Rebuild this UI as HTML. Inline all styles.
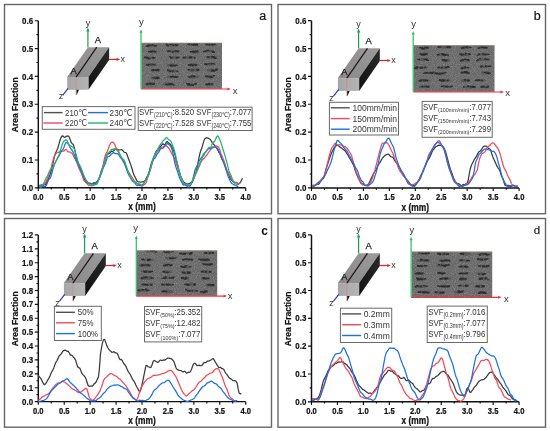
<!DOCTYPE html><html><head><meta charset="utf-8"><style>html,body{margin:0;padding:0;background:#fff;}svg{display:block;}</style></head><body>
<svg width="550" height="431" viewBox="0 0 550 431">
<defs>
<linearGradient id="gTop" x1="0" y1="1" x2="1" y2="0"><stop offset="0" stop-color="#8a8a8a"/><stop offset="1" stop-color="#9a9a9a"/></linearGradient>
<linearGradient id="gSide" x1="0" y1="1" x2="1" y2="0"><stop offset="0" stop-color="#111"/><stop offset="1" stop-color="#2a2a2a"/></linearGradient>
<linearGradient id="gFront" x1="0" y1="0" x2="1" y2="0"><stop offset="0" stop-color="#a6a6a6"/><stop offset="1" stop-color="#b4b4b4"/></linearGradient>
<filter id="noise" x="0" y="0" width="100%" height="100%"><feTurbulence type="fractalNoise" baseFrequency="1.1" numOctaves="1" seed="3" result="t"/><feColorMatrix type="matrix" values="0 0 0 0 0.5  0 0 0 0 0.5  0 0 0 0 0.5  0 0 0 -2.2 1.35"/></filter>
<filter id="soft" x="-10%" y="-50%" width="120%" height="200%"><feGaussianBlur stdDeviation="0.45"/></filter>
</defs>
<rect width="550" height="431" fill="#fff"/>
<rect x="4.5" y="4.5" width="267" height="209.2" fill="none" stroke="#666" stroke-width="1.4"/>
<rect x="278" y="4.5" width="267.5" height="209.2" fill="none" stroke="#666" stroke-width="1.4"/>
<rect x="4.5" y="218.5" width="267" height="208.7" fill="none" stroke="#666" stroke-width="1.4"/>
<rect x="278" y="218.5" width="267.5" height="208.7" fill="none" stroke="#666" stroke-width="1.4"/>
<path d="M38.3 20.7 V187.8 H245.7" fill="none" stroke="#111" stroke-width="1.45"/>
<path d="M38.3 187.8 h-3.5 M38.3 173.88 h-1.8 M38.3 159.95 h-3.5 M38.3 146.03 h-1.8 M38.3 132.1 h-3.5 M38.3 118.18 h-1.8 M38.3 104.25 h-3.5 M38.3 90.33 h-1.8 M38.3 76.4 h-3.5 M38.3 62.48 h-1.8 M38.3 48.55 h-3.5 M38.3 34.63 h-1.8 M38.3 20.7 h-3.5 M38.3 187.8 v3.2 M51.26 187.8 v1.8 M64.22 187.8 v3.2 M77.19 187.8 v1.8 M90.15 187.8 v3.2 M103.11 187.8 v1.8 M116.08 187.8 v3.2 M129.04 187.8 v1.8 M142 187.8 v3.2 M154.96 187.8 v1.8 M167.93 187.8 v3.2 M180.89 187.8 v1.8 M193.85 187.8 v3.2 M206.81 187.8 v1.8 M219.77 187.8 v3.2 M232.74 187.8 v1.8 M245.7 187.8 v3.2" stroke="#111" stroke-width="1.15"/>
<text transform="translate(33.1 190.9) scale(1 1.03)" font-family='"Liberation Sans", "DejaVu Sans", "Noto Sans CJK SC", sans-serif' font-size="8.4" fill="#111" text-anchor="end" font-weight="bold" textLength="11" lengthAdjust="spacingAndGlyphs" stroke="#111" stroke-width="0.2">0.0</text>
<text transform="translate(33.1 163.05) scale(1 1.03)" font-family='"Liberation Sans", "DejaVu Sans", "Noto Sans CJK SC", sans-serif' font-size="8.4" fill="#111" text-anchor="end" font-weight="bold" textLength="11" lengthAdjust="spacingAndGlyphs" stroke="#111" stroke-width="0.2">0.1</text>
<text transform="translate(33.1 135.2) scale(1 1.03)" font-family='"Liberation Sans", "DejaVu Sans", "Noto Sans CJK SC", sans-serif' font-size="8.4" fill="#111" text-anchor="end" font-weight="bold" textLength="11" lengthAdjust="spacingAndGlyphs" stroke="#111" stroke-width="0.2">0.2</text>
<text transform="translate(33.1 107.35) scale(1 1.03)" font-family='"Liberation Sans", "DejaVu Sans", "Noto Sans CJK SC", sans-serif' font-size="8.4" fill="#111" text-anchor="end" font-weight="bold" textLength="11" lengthAdjust="spacingAndGlyphs" stroke="#111" stroke-width="0.2">0.3</text>
<text transform="translate(33.1 79.5) scale(1 1.03)" font-family='"Liberation Sans", "DejaVu Sans", "Noto Sans CJK SC", sans-serif' font-size="8.4" fill="#111" text-anchor="end" font-weight="bold" textLength="11" lengthAdjust="spacingAndGlyphs" stroke="#111" stroke-width="0.2">0.4</text>
<text transform="translate(33.1 51.65) scale(1 1.03)" font-family='"Liberation Sans", "DejaVu Sans", "Noto Sans CJK SC", sans-serif' font-size="8.4" fill="#111" text-anchor="end" font-weight="bold" textLength="11" lengthAdjust="spacingAndGlyphs" stroke="#111" stroke-width="0.2">0.5</text>
<text transform="translate(33.1 23.8) scale(1 1.03)" font-family='"Liberation Sans", "DejaVu Sans", "Noto Sans CJK SC", sans-serif' font-size="8.4" fill="#111" text-anchor="end" font-weight="bold" textLength="11" lengthAdjust="spacingAndGlyphs" stroke="#111" stroke-width="0.2">0.6</text>
<text transform="translate(38.3 199.9) scale(1 1.2)" font-family='"Liberation Sans", "DejaVu Sans", "Noto Sans CJK SC", sans-serif' font-size="8" fill="#111" text-anchor="middle" font-weight="bold" textLength="10.6" lengthAdjust="spacingAndGlyphs" stroke="#111" stroke-width="0.2">0.0</text>
<text transform="translate(64.22 199.9) scale(1 1.2)" font-family='"Liberation Sans", "DejaVu Sans", "Noto Sans CJK SC", sans-serif' font-size="8" fill="#111" text-anchor="middle" font-weight="bold" textLength="10.6" lengthAdjust="spacingAndGlyphs" stroke="#111" stroke-width="0.2">0.5</text>
<text transform="translate(90.15 199.9) scale(1 1.2)" font-family='"Liberation Sans", "DejaVu Sans", "Noto Sans CJK SC", sans-serif' font-size="8" fill="#111" text-anchor="middle" font-weight="bold" textLength="10.6" lengthAdjust="spacingAndGlyphs" stroke="#111" stroke-width="0.2">1.0</text>
<text transform="translate(116.08 199.9) scale(1 1.2)" font-family='"Liberation Sans", "DejaVu Sans", "Noto Sans CJK SC", sans-serif' font-size="8" fill="#111" text-anchor="middle" font-weight="bold" textLength="10.6" lengthAdjust="spacingAndGlyphs" stroke="#111" stroke-width="0.2">1.5</text>
<text transform="translate(142 199.9) scale(1 1.2)" font-family='"Liberation Sans", "DejaVu Sans", "Noto Sans CJK SC", sans-serif' font-size="8" fill="#111" text-anchor="middle" font-weight="bold" textLength="10.6" lengthAdjust="spacingAndGlyphs" stroke="#111" stroke-width="0.2">2.0</text>
<text transform="translate(167.93 199.9) scale(1 1.2)" font-family='"Liberation Sans", "DejaVu Sans", "Noto Sans CJK SC", sans-serif' font-size="8" fill="#111" text-anchor="middle" font-weight="bold" textLength="10.6" lengthAdjust="spacingAndGlyphs" stroke="#111" stroke-width="0.2">2.5</text>
<text transform="translate(193.85 199.9) scale(1 1.2)" font-family='"Liberation Sans", "DejaVu Sans", "Noto Sans CJK SC", sans-serif' font-size="8" fill="#111" text-anchor="middle" font-weight="bold" textLength="10.6" lengthAdjust="spacingAndGlyphs" stroke="#111" stroke-width="0.2">3.0</text>
<text transform="translate(219.77 199.9) scale(1 1.2)" font-family='"Liberation Sans", "DejaVu Sans", "Noto Sans CJK SC", sans-serif' font-size="8" fill="#111" text-anchor="middle" font-weight="bold" textLength="10.6" lengthAdjust="spacingAndGlyphs" stroke="#111" stroke-width="0.2">3.5</text>
<text transform="translate(245.7 199.9) scale(1 1.2)" font-family='"Liberation Sans", "DejaVu Sans", "Noto Sans CJK SC", sans-serif' font-size="8" fill="#111" text-anchor="middle" font-weight="bold" textLength="10.6" lengthAdjust="spacingAndGlyphs" stroke="#111" stroke-width="0.2">4.0</text>
<text transform="translate(142 210.4) scale(1 1.2)" font-family='"Liberation Sans", "DejaVu Sans", "Noto Sans CJK SC", sans-serif' font-size="8.4" fill="#111" text-anchor="middle" font-weight="bold" textLength="27.5" lengthAdjust="spacingAndGlyphs" stroke="#111" stroke-width="0.2">x (mm)</text>
<text transform="translate(18 104.75) rotate(-90)" x="-27.4" font-family='"Liberation Sans", "DejaVu Sans", "Noto Sans CJK SC", sans-serif' font-weight="bold" font-size="8.7" fill="#111" stroke="#111" stroke-width="0.2" textLength="54.8" lengthAdjust="spacingAndGlyphs">Area Fraction</text>
<polygon points="67.2,77 88.4,77 109.1,47.2 87.9,47.2" fill="url(#gTop)"/>
<polygon points="88.4,77 109.1,47.2 109.1,60 88.4,89.8" fill="url(#gSide)"/>
<rect x="67.2" y="77" width="21.2" height="12.8" fill="url(#gFront)"/>
<line x1="76" y1="77" x2="96.7" y2="47.2" stroke="#111" stroke-width="1.35"/>
<line x1="75.1" y1="77" x2="95.8" y2="47.2" stroke="#c99" stroke-width="0.5" opacity="0.8"/>
<line x1="76" y1="77" x2="76" y2="95" stroke="#c88" stroke-width="0.6"/>
<polygon points="76.5,89.8 79,89.8 76.5,95.5" fill="#111"/>
<line x1="87.9" y1="47.2" x2="87.9" y2="31" stroke="#1aa04a" stroke-width="1.2"/>
<polygon points="86.3,31.5 89.5,31.5 87.9,27.5" fill="#1aa04a"/>
<line x1="109.1" y1="59.4" x2="117.1" y2="59.4" stroke="#e02020" stroke-width="1.2"/>
<polygon points="116.6,57.8 116.6,61 120.1,59.4" fill="#e02020"/>
<line x1="68" y1="88.3" x2="62.7" y2="95.3" stroke="#2030c0" stroke-width="1.1"/>
<text x="87.9" y="25.5" text-anchor="middle" font-family='"Liberation Sans", "DejaVu Sans", "Noto Sans CJK SC", sans-serif' font-size="9" fill="#333">y</text>
<text x="122.7" y="62" text-anchor="middle" font-family='"Liberation Sans", "DejaVu Sans", "Noto Sans CJK SC", sans-serif' font-size="9" fill="#333">x</text>
<text x="60.9" y="99.4" text-anchor="middle" font-family='"Liberation Sans", "DejaVu Sans", "Noto Sans CJK SC", sans-serif' font-size="9" fill="#333">z</text>
<text x="97.9" y="43" text-anchor="middle" font-family='"Liberation Sans", "DejaVu Sans", "Noto Sans CJK SC", sans-serif' font-size="9.4" fill="#222" stroke="#222" stroke-width="0.25">A</text>
<text x="73.6" y="74.2" text-anchor="middle" font-family='"Liberation Sans", "DejaVu Sans", "Noto Sans CJK SC", sans-serif' font-size="9.4" fill="#222" stroke="#222" stroke-width="0.25">A</text>
<clipPath id="mc11"><rect x="141.5" y="42.9" width="80.5" height="45.9"/></clipPath>
<rect x="141.5" y="42.9" width="80.5" height="45.9" fill="#676767"/>
<g clip-path="url(#mc11)">
<rect x="141.5" y="42.9" width="80.5" height="45.9" filter="url(#noise)" opacity="0.38"/>
<g fill="#3a3a3a" opacity="0.45" filter="url(#soft)"><ellipse cx="152.02" cy="45.64" rx="5.5" ry="1.22"/><ellipse cx="153.41" cy="51.51" rx="4.21" ry="1.74"/><ellipse cx="149.82" cy="57.87" rx="4.79" ry="1.25"/><ellipse cx="151.04" cy="64.8" rx="5.73" ry="1.67"/><ellipse cx="156.1" cy="70.06" rx="4.1" ry="1.27"/><ellipse cx="155.2" cy="77.9" rx="4.89" ry="1.64"/><ellipse cx="150.78" cy="83.89" rx="4.16" ry="1.53"/><ellipse cx="171.89" cy="45.05" rx="6.17" ry="1.66"/><ellipse cx="173.38" cy="51.34" rx="5.68" ry="1.42"/><ellipse cx="174.55" cy="57.74" rx="4.99" ry="1.44"/><ellipse cx="172.03" cy="65.22" rx="5.41" ry="1.73"/><ellipse cx="172.64" cy="71.03" rx="5.03" ry="1.61"/><ellipse cx="172.44" cy="76.87" rx="6.27" ry="1.37"/><ellipse cx="168.29" cy="84.18" rx="5.77" ry="1.76"/><ellipse cx="192.55" cy="44.36" rx="6.23" ry="1.48"/><ellipse cx="195.34" cy="51.74" rx="4.05" ry="1.76"/><ellipse cx="189.27" cy="57.54" rx="5.7" ry="1.68"/><ellipse cx="192.9" cy="64.95" rx="4.35" ry="1.74"/><ellipse cx="193.4" cy="70" rx="4.87" ry="1.76"/><ellipse cx="193.41" cy="76.82" rx="6.35" ry="1.58"/><ellipse cx="191.34" cy="84.43" rx="4.55" ry="1.3"/><ellipse cx="211.24" cy="44.42" rx="4.76" ry="1.42"/><ellipse cx="208.73" cy="51.08" rx="5.02" ry="1.27"/><ellipse cx="211.23" cy="57.18" rx="5.25" ry="1.65"/><ellipse cx="210.37" cy="64.21" rx="5.87" ry="1.54"/><ellipse cx="212.15" cy="70.13" rx="5.42" ry="1.55"/><ellipse cx="209.87" cy="76.7" rx="4.57" ry="1.47"/><ellipse cx="210.01" cy="84.29" rx="4.02" ry="1.72"/></g>
<path d="M145.83 45.21 h2.92 v1.5 h-2.92Z M149.33 44.65 h2.49 v1.22 h-2.49Z M146.78 45.22 h2.51 v1.41 h-2.51Z M154.02 45.3 h2.97 v1.16 h-2.97Z M151.6 44.26 h2.03 v1.47 h-2.03Z M147.71 44.54 h2.8 v1.1 h-2.8Z M149.54 50.83 h1.8 v1.72 h-1.8Z M150.13 51.01 h1.8 v1.28 h-1.8Z M151.87 50.71 h2.55 v1.27 h-2.55Z M147.85 50.93 h2.99 v1.37 h-2.99Z M154.24 50.94 h1.55 v1.68 h-1.55Z M152.23 56.85 h1.69 v1.59 h-1.69Z M145.7 56.74 h2.4 v1.72 h-2.4Z M144.39 56.59 h1.79 v1.07 h-1.79Z M143.9 56.79 h2.59 v1.39 h-2.59Z M152.22 57.46 h1.97 v1.21 h-1.97Z M153.4 57.05 h2.01 v1.35 h-2.01Z M147.26 57.08 h1.56 v1.05 h-1.56Z M147.52 58.02 h2.77 v1.59 h-2.77Z M146.17 64.21 h1.72 v1.35 h-1.72Z M153 64.32 h2.64 v1.03 h-2.64Z M147.93 63.74 h3 v1.12 h-3Z M147.31 64.27 h1.59 v1.7 h-1.59Z M151.48 63.77 h2.25 v1.06 h-2.25Z M153.65 69.49 h2.03 v1.1 h-2.03Z M153.15 69.28 h2.87 v1.09 h-2.87Z M151.24 69.57 h2.95 v1.73 h-2.95Z M156.39 69.67 h2.71 v1.55 h-2.71Z M152.4 69.03 h1.57 v1.64 h-1.57Z M156.57 69.2 h2.64 v1.21 h-2.64Z M157.62 68.71 h1.71 v1.31 h-1.71Z M154.88 69.39 h2.41 v1.48 h-2.41Z M156.96 77.31 h2.33 v1.54 h-2.33Z M153.9 77.62 h2.97 v1.08 h-2.97Z M152.72 77.22 h1.54 v1.12 h-1.54Z M156.9 77.35 h2.46 v1.72 h-2.46Z M156.47 77.18 h2.47 v1.27 h-2.47Z M156.78 77.09 h1.73 v1.7 h-1.73Z M155.9 76.75 h2.34 v1.63 h-2.34Z M151.89 83.79 h2.82 v1.09 h-2.82Z M153.09 82.68 h1.64 v1.5 h-1.64Z M149.02 83.33 h2.78 v1.11 h-2.78Z M150.61 83.18 h2.29 v1.4 h-2.29Z M146.34 83.44 h2.79 v1.14 h-2.79Z M145.63 83.49 h2.19 v1.78 h-2.19Z M145.84 83.17 h2.3 v1.1 h-2.3Z M148.82 82.81 h2.57 v1.43 h-2.57Z M169.25 44.06 h2.96 v1.06 h-2.96Z M166.55 45.1 h2.26 v1.06 h-2.26Z M165.34 43.53 h2.08 v1.59 h-2.08Z M172.46 44.53 h1.57 v1.36 h-1.57Z M175.49 44.42 h2.05 v1.71 h-2.05Z M175.87 44.23 h2.62 v1.29 h-2.62Z M166.8 44.52 h1.63 v1.53 h-1.63Z M174.62 44.37 h2.17 v1.09 h-2.17Z M174.62 50.3 h2.54 v1.4 h-2.54Z M171.93 51.26 h1.75 v1.39 h-1.75Z M168.4 50.52 h2.23 v1.27 h-2.23Z M168.56 50.99 h2.1 v1.1 h-2.1Z M166.88 50.32 h2.37 v1.42 h-2.37Z M176.48 50.59 h2.9 v1.64 h-2.9Z M176.76 56.87 h1.54 v1.37 h-1.54Z M175.7 57.03 h2.05 v1.53 h-2.05Z M169.99 57.02 h2.39 v1.42 h-2.39Z M176.86 56.64 h2.68 v1.01 h-2.68Z M168.91 56.04 h1.84 v1.05 h-1.84Z M171.83 64.87 h2.08 v1.25 h-2.08Z M169.64 64.47 h2.33 v1.5 h-2.33Z M173.71 65.02 h2.03 v1.53 h-2.03Z M169.98 64.94 h2.83 v1.6 h-2.83Z M175.38 64.69 h2.88 v1.1 h-2.88Z M171.97 70.3 h1.61 v1.54 h-1.61Z M166.84 69.33 h2.52 v1.32 h-2.52Z M169.61 70.92 h1.91 v1.02 h-1.91Z M168.74 70.43 h2.72 v1.1 h-2.72Z M176.43 70.73 h1.96 v1.47 h-1.96Z M169.88 70.43 h1.66 v1.31 h-1.66Z M176.22 76.27 h2.06 v1.57 h-2.06Z M175.23 76.08 h1.77 v1.14 h-1.77Z M174.26 76.34 h2.84 v1.62 h-2.84Z M170.04 75.97 h2.84 v1.56 h-2.84Z M172.36 75.86 h2.08 v1.27 h-2.08Z M165.55 83.78 h2.89 v1.32 h-2.89Z M170.67 83.18 h2.18 v1.41 h-2.18Z M170.99 83.41 h1.73 v1.49 h-1.73Z M168.41 83 h2.75 v1.44 h-2.75Z M172.48 84.14 h2.29 v1.26 h-2.29Z M168.8 83.62 h2.27 v1.26 h-2.27Z M188.5 43.02 h1.97 v1.69 h-1.97Z M192.86 44.33 h1.75 v1.75 h-1.75Z M194.67 43.13 h2.56 v1.58 h-2.56Z M190.99 43.98 h1.84 v1.02 h-1.84Z M193.32 43.32 h2.86 v1.21 h-2.86Z M195.09 43.95 h2.85 v1.77 h-2.85Z M187.39 43.55 h1.84 v1.29 h-1.84Z M195.05 50.66 h2.61 v1.64 h-2.61Z M193.57 51.18 h1.65 v1.23 h-1.65Z M192.1 50.79 h1.99 v1.46 h-1.99Z M192.61 51.66 h2.75 v1.01 h-2.75Z M189.94 51.07 h2.8 v1.51 h-2.8Z M196.27 50.5 h1.83 v1.74 h-1.83Z M182.6 56.78 h2.97 v1.72 h-2.97Z M188.78 57 h2.85 v1.27 h-2.85Z M193.88 57.06 h1.74 v1.42 h-1.74Z M189.08 56.69 h2.51 v1.03 h-2.51Z M189.6 56.41 h2.51 v1.78 h-2.51Z M194.96 64.36 h2.44 v1.68 h-2.44Z M193.26 64.17 h2.96 v1.07 h-2.96Z M187.97 64.35 h2.93 v1.55 h-2.93Z M190.15 63.75 h2.17 v1.38 h-2.17Z M191.67 64.55 h1.91 v1.7 h-1.91Z M196.18 69.69 h2.76 v1.04 h-2.76Z M196.3 68.63 h1.77 v1.59 h-1.77Z M196.86 69.22 h2.63 v1.73 h-2.63Z M197.29 68.74 h1.72 v1.68 h-1.72Z M191.26 69.47 h2.25 v1.03 h-2.25Z M187.52 68.98 h2.39 v1.6 h-2.39Z M193.72 75.39 h1.59 v1.61 h-1.59Z M188.53 76.37 h2.2 v1.01 h-2.2Z M193.39 76.1 h1.61 v1.21 h-1.61Z M189.67 76.38 h2.56 v1.13 h-2.56Z M191.23 75.35 h2.92 v1.09 h-2.92Z M187.59 82.93 h2.47 v1.29 h-2.47Z M187.38 84.13 h1.89 v1.14 h-1.89Z M189.88 84.7 h2.57 v1.16 h-2.57Z M186.04 82.97 h2.15 v1.29 h-2.15Z M192.06 84.45 h1.88 v1.55 h-1.88Z M190.54 84.23 h2.85 v1.09 h-2.85Z M187.4 83.87 h2.35 v1.78 h-2.35Z M194.37 82.97 h2.64 v1.56 h-2.64Z M205.27 43.58 h2.58 v1.6 h-2.58Z M208.34 44.05 h1.76 v1.48 h-1.76Z M213.02 43.64 h2.9 v1.21 h-2.9Z M212.01 44.07 h2.3 v1.09 h-2.3Z M210.61 44.22 h2.02 v1.28 h-2.02Z M212.06 51.2 h2.81 v1.7 h-2.81Z M204.63 50.45 h2.54 v1.24 h-2.54Z M212 51.05 h2.6 v1.57 h-2.6Z M204.86 50.77 h1.99 v1.09 h-1.99Z M202.99 51.09 h2.45 v1.22 h-2.45Z M210.78 50.7 h2.77 v1.03 h-2.77Z M205.26 50.53 h2.17 v1.28 h-2.17Z M206.49 49.64 h2.37 v1.48 h-2.37Z M211.46 56.1 h1.9 v1.73 h-1.9Z M213.1 56.68 h1.83 v1.35 h-1.83Z M213.9 57.5 h2.72 v1.43 h-2.72Z M207.47 56.33 h1.61 v1.54 h-1.61Z M212.64 56 h1.95 v1.62 h-1.95Z M206.73 56.22 h2.71 v1.46 h-2.71Z M208.26 63.13 h1.68 v1.04 h-1.68Z M205.28 63.82 h2.45 v1.46 h-2.45Z M210.62 63.11 h1.64 v1.31 h-1.64Z M204.63 63.63 h1.62 v1.05 h-1.62Z M204.41 63.67 h2.64 v1.23 h-2.64Z M212.25 62.98 h1.93 v1.38 h-1.93Z M204.2 63.23 h2.38 v1.66 h-2.38Z M215.11 69.31 h2.32 v1.43 h-2.32Z M215.11 68.6 h2.99 v1.19 h-2.99Z M212.78 70.17 h2.27 v1.5 h-2.27Z M211.47 69.47 h2.46 v1.07 h-2.46Z M211.02 70.31 h1.82 v1.45 h-1.82Z M213.02 69.91 h1.95 v1.05 h-1.95Z M212.76 74.96 h2.41 v1.18 h-2.41Z M209.76 76.85 h1.98 v1.38 h-1.98Z M209.4 76.15 h2.53 v1.21 h-2.53Z M205.14 75.65 h1.99 v1.49 h-1.99Z M208.27 75.89 h1.65 v1.48 h-1.65Z M205.04 75.67 h2.53 v1.5 h-2.53Z M205.31 75.62 h2.91 v1.07 h-2.91Z M210.3 76.55 h2.42 v1.31 h-2.42Z M207.86 83.33 h2.29 v1.78 h-2.29Z M205.3 83.72 h2.11 v1.63 h-2.11Z M211.1 83.22 h1.52 v1.52 h-1.52Z M208.04 82.96 h2.45 v1.36 h-2.45Z M207.32 83.69 h2.28 v1.2 h-2.28Z M208.05 83.8 h2.22 v1.2 h-2.22Z" fill="#222" opacity="0.8"/>
</g>
<line x1="141.5" y1="43.2" x2="222" y2="43.2" stroke="#9a8a70" stroke-width="0.7"/>
<line x1="141" y1="88.8" x2="141" y2="32.2" stroke="#22c060" stroke-width="1.2"/>
<polygon points="139.5,32.7 142.5,32.7 141,29.2" fill="#22c060"/>
<line x1="141" y1="89" x2="227.8" y2="89" stroke="#f03040" stroke-width="1.2"/>
<polygon points="227.3,87.5 227.3,90.5 230.8,89" fill="#f03040"/>
<text x="141.3" y="25.3" font-family='"Liberation Sans", "DejaVu Sans", "Noto Sans CJK SC", sans-serif' font-size="9.5" fill="#333" text-anchor="middle">y</text>
<text x="235.2" y="94.1" font-family='"Liberation Sans", "DejaVu Sans", "Noto Sans CJK SC", sans-serif' font-size="9.5" fill="#333" text-anchor="middle">x</text>
<rect x="42.3" y="106.6" width="92.7" height="22.7" fill="#fff" stroke="#6a6a6a" stroke-width="1"/>
<line x1="43.9" y1="112.6" x2="62.6" y2="112.6" stroke="#505050" stroke-width="1.4"/>
<text transform="translate(65 115.7) scale(1 1.08)" font-family='"Liberation Sans", "DejaVu Sans", "Noto Sans CJK SC", sans-serif' font-size="9" fill="#333" textLength="22" lengthAdjust="spacingAndGlyphs">210℃</text>
<line x1="88" y1="112.6" x2="108" y2="112.6" stroke="#1b70e4" stroke-width="1.4"/>
<text transform="translate(109.6 115.7) scale(1 1.08)" font-family='"Liberation Sans", "DejaVu Sans", "Noto Sans CJK SC", sans-serif' font-size="9" fill="#333" textLength="23" lengthAdjust="spacingAndGlyphs">230℃</text>
<line x1="43.4" y1="123" x2="62.6" y2="123" stroke="#f4485a" stroke-width="1.4"/>
<text transform="translate(65 126.1) scale(1 1.08)" font-family='"Liberation Sans", "DejaVu Sans", "Noto Sans CJK SC", sans-serif' font-size="9" fill="#333" textLength="22" lengthAdjust="spacingAndGlyphs">220℃</text>
<line x1="88" y1="123" x2="108" y2="123" stroke="#22b46a" stroke-width="1.4"/>
<text transform="translate(109.6 126.1) scale(1 1.08)" font-family='"Liberation Sans", "DejaVu Sans", "Noto Sans CJK SC", sans-serif' font-size="9" fill="#333" textLength="23" lengthAdjust="spacingAndGlyphs">240℃</text>
<rect x="138.2" y="107.2" width="113.9" height="23.3" fill="#fff" stroke="#6a6a6a" stroke-width="1"/>
<text transform="translate(139 115.05) scale(1 1.1)" font-family='"Liberation Sans", "DejaVu Sans", "Noto Sans CJK SC", sans-serif' fill="#333" textLength="112.4" lengthAdjust="spacingAndGlyphs"><tspan font-size="8.6" y="0">SVF</tspan><tspan font-size="5.9" y="2">(210℃)</tspan><tspan font-size="8.6" y="0">:8.520 SVF</tspan><tspan font-size="5.9" y="2">(230℃)</tspan><tspan font-size="8.6" y="0">:7.077</tspan></text>
<text transform="translate(139 126.1) scale(1 1.1)" font-family='"Liberation Sans", "DejaVu Sans", "Noto Sans CJK SC", sans-serif' fill="#333" textLength="112.4" lengthAdjust="spacingAndGlyphs"><tspan font-size="8.6" y="0">SVF</tspan><tspan font-size="5.9" y="2">(220℃)</tspan><tspan font-size="8.6" y="0">:7.528 SVF</tspan><tspan font-size="5.9" y="2">(240℃)</tspan><tspan font-size="8.6" y="0">:7.755</tspan></text>
<path d="M39.2 185.46 L40.23 185.24 L41.26 185.69 L42.3 185.95 L43.33 185.23 L44.36 184.96 L45.39 184.62 L46.42 182.93 L47.46 180.78 L48.49 178.59 L49.52 176.14 L50.55 173.13 L51.58 169.35 L52.62 164.84 L53.65 160.03 L54.68 155.74 L55.71 152.77 L56.74 150.62 L57.78 148.2 L58.81 144.7 L59.84 140.79 L60.87 137.88 L61.9 136.08 L62.94 135.89 L63.97 137.24 L65 137.34 L66.03 136.42 L67.06 136.06 L68.1 135.95 L69.13 136.9 L70.16 139.47 L71.19 142.54 L72.22 143.67 L73.26 144.38 L74.29 147.61 L75.32 152.28 L76.35 157.25 L77.38 161.1 L78.42 163.63 L79.45 166.53 L80.48 169.89 L81.51 172.43 L82.54 174.71 L83.58 177.43 L84.61 179.74 L85.64 181.55 L86.67 182.95 L87.7 183.4 L88.74 183.22 L89.77 183.15 L90.8 183.71 L91.83 184.01 L92.86 183.8 L93.9 183.63 L94.93 183.65 L95.96 183.69 L96.99 182.6 L98.02 180.89 L99.06 178.71 L100.09 175.28 L101.12 171.59 L102.15 168.8 L103.18 166.22 L104.22 162.75 L105.25 158.97 L106.28 156.18 L107.31 154.41 L108.34 153.65 L109.38 153.5 L110.41 152.32 L111.44 151.23 L112.47 151.34 L113.5 151 L114.54 149.82 L115.57 148.93 L116.6 148.69 L117.63 149.4 L118.66 150.03 L119.7 149.93 L120.73 149.75 L121.76 149.73 L122.79 150.59 L123.82 151.98 L124.86 152.42 L125.89 152.52 L126.92 154.21 L127.95 157.28 L128.98 160.11 L130.02 162.66 L131.05 165.59 L132.08 168.98 L133.11 172.49 L134.14 175.33 L135.18 177.27 L136.21 179.35 L137.24 181.48 L138.27 181.77 L139.3 181.78 L140.34 182.22 L141.37 182.11 L142.4 181.9 L143.43 181.69 L144.46 181.44 L145.5 179.92 L146.53 177.69 L147.56 176.09 L148.59 174.39 L149.62 170.74 L150.66 165.95 L151.69 162.52 L152.72 159.98 L153.75 157.22 L154.78 154.51 L155.82 152.11 L156.85 150.43 L157.88 149.38 L158.91 148.17 L159.94 147 L160.98 146.04 L162.01 144.54 L163.04 143.8 L164.07 144.74 L165.1 144.67 L166.14 142.48 L167.17 141.35 L168.2 142.55 L169.23 143.51 L170.26 144.1 L171.3 145.79 L172.33 147.65 L173.36 149.68 L174.39 152.84 L175.42 156.86 L176.46 160.88 L177.49 164.75 L178.52 168.77 L179.55 172.53 L180.58 175.66 L181.62 177.96 L182.65 180.46 L183.68 182.07 L184.71 182.73 L185.74 183.72 L186.78 184.05 L187.81 183.85 L188.84 183.83 L189.87 183.39 L190.9 182.55 L191.94 182.07 L192.97 180.54 L194 177.56 L195.03 174.56 L196.06 171.45 L197.1 167.68 L198.13 162.46 L199.16 156.76 L200.19 152.46 L201.22 149.57 L202.26 146.59 L203.29 142.85 L204.32 139.64 L205.35 138.34 L206.38 137.96 L207.42 137.89 L208.45 138.34 L209.48 138.97 L210.51 139.72 L211.54 141.41 L212.58 143.17 L213.61 144.28 L214.64 145.35 L215.67 146.64 L216.7 148.09 L217.74 150.07 L218.77 152.05 L219.8 153.56 L220.83 156.11 L221.86 158.91 L222.9 160.71 L223.93 162.78 L224.96 165.58 L225.99 168.81 L227.02 171.12 L228.06 172.51 L229.09 175.21 L230.12 178.28 L231.15 179.67 L232.18 180.63 L233.22 181.69 L234.25 182.16 L235.28 182.38 L236.31 182.36 L237.34 183.22 L238.38 184.17 L239.41 183.58 L240.44 182.28 L241.47 180.21 L242.5 178.24" fill="none" stroke="#3a3a3a" stroke-width="1.25" stroke-linejoin="round"/>
<path d="M39.2 186.14 L40.23 186.36 L41.26 186.8 L42.3 186.46 L43.33 184.7 L44.36 183.86 L45.39 183.11 L46.42 180.86 L47.46 178.27 L48.49 175.38 L49.52 172.1 L50.55 169.35 L51.58 166.07 L52.62 162.02 L53.65 158.05 L54.68 155.23 L55.71 153.88 L56.74 153.03 L57.78 152.51 L58.81 152.09 L59.84 151.44 L60.87 151.15 L61.9 151.09 L62.94 151.2 L63.97 151.22 L65 149.97 L66.03 149.33 L67.06 150.62 L68.1 151.85 L69.13 151.99 L70.16 152.02 L71.19 152.66 L72.22 153.75 L73.26 155.39 L74.29 157.49 L75.32 159.61 L76.35 161.57 L77.38 163.99 L78.42 167.12 L79.45 169.74 L80.48 171.39 L81.51 173.43 L82.54 176.8 L83.58 179.83 L84.61 181.38 L85.64 182.38 L86.67 183.22 L87.7 184.41 L88.74 185.52 L89.77 185.19 L90.8 185.11 L91.83 185.91 L92.86 185.43 L93.9 184.72 L94.93 184.69 L95.96 183.57 L96.99 181.69 L98.02 180.36 L99.06 178.66 L100.09 175.87 L101.12 172.65 L102.15 169.07 L103.18 164.69 L104.22 159.69 L105.25 155.42 L106.28 153.02 L107.31 151.35 L108.34 148.82 L109.38 145.74 L110.41 143.66 L111.44 142.33 L112.47 142.05 L113.5 142.62 L114.54 144.01 L115.57 146.53 L116.6 149.1 L117.63 150.54 L118.66 151.55 L119.7 153.67 L120.73 156.27 L121.76 158.78 L122.79 160.85 L123.82 162.57 L124.86 164.99 L125.89 167.52 L126.92 169.58 L127.95 171.41 L128.98 172.59 L130.02 174.05 L131.05 175.86 L132.08 177.27 L133.11 178.9 L134.14 180.44 L135.18 181.74 L136.21 182.78 L137.24 183.67 L138.27 184.75 L139.3 185.5 L140.34 185.69 L141.37 185.92 L142.4 185.96 L143.43 185.27 L144.46 184.42 L145.5 183.72 L146.53 181.45 L147.56 178.15 L148.59 175.35 L149.62 172.09 L150.66 168.62 L151.69 165.29 L152.72 161.6 L153.75 158.1 L154.78 155.63 L155.82 153.94 L156.85 151.98 L157.88 150.84 L158.91 149.87 L159.94 148.14 L160.98 147.31 L162.01 147.22 L163.04 146.88 L164.07 146.31 L165.1 145.96 L166.14 145.82 L167.17 146.4 L168.2 147.66 L169.23 148.89 L170.26 150.53 L171.3 152.64 L172.33 154.58 L173.36 156.38 L174.39 158.22 L175.42 160.71 L176.46 164.01 L177.49 167.32 L178.52 170.24 L179.55 173 L180.58 176.04 L181.62 178.76 L182.65 181.37 L183.68 183.33 L184.71 184.47 L185.74 185.2 L186.78 185.56 L187.81 185.7 L188.84 185.32 L189.87 184.69 L190.9 183.86 L191.94 182.36 L192.97 180.45 L194 178.19 L195.03 175.61 L196.06 173.52 L197.1 171.34 L198.13 168.85 L199.16 166.55 L200.19 164.1 L201.22 161.73 L202.26 160.01 L203.29 159.08 L204.32 158.25 L205.35 156.74 L206.38 155.46 L207.42 154.3 L208.45 152.41 L209.48 151.03 L210.51 149.81 L211.54 148.05 L212.58 146.91 L213.61 146.81 L214.64 146.83 L215.67 146.2 L216.7 146 L217.74 146.32 L218.77 147.29 L219.8 149.99 L220.83 153.22 L221.86 155.66 L222.9 158.22 L223.93 160.66 L224.96 163.89 L225.99 167.8 L227.02 170.5 L228.06 172.62 L229.09 174.6 L230.12 176.2 L231.15 178.13 L232.18 179.77 L233.22 181.23 L234.25 182.59 L235.28 182.66 L236.31 182.59 L237.34 183.37 L238.38 183.71 L239.41 182.98 L240.44 182.51" fill="none" stroke="#f4485a" stroke-width="1.25" stroke-linejoin="round"/>
<path d="M39.2 186.29 L40.23 187.28 L41.26 187.11 L42.3 186.7 L43.33 186.65 L44.36 186.71 L45.39 186.5 L46.42 185.23 L47.46 182.75 L48.49 180.03 L49.52 178.88 L50.55 177.68 L51.58 174.22 L52.62 170.25 L53.65 166.68 L54.68 163.82 L55.71 161.54 L56.74 159.72 L57.78 157.9 L58.81 156.32 L59.84 154.34 L60.87 152.03 L61.9 150.67 L62.94 149.42 L63.97 147.14 L65 144.31 L66.03 142.48 L67.06 142.66 L68.1 143.73 L69.13 145.34 L70.16 147.63 L71.19 149.26 L72.22 150.5 L73.26 152.48 L74.29 154.73 L75.32 157.58 L76.35 160.4 L77.38 162.08 L78.42 164.53 L79.45 167.34 L80.48 169.06 L81.51 171.26 L82.54 174.32 L83.58 176.79 L84.61 178.29 L85.64 179.65 L86.67 180.92 L87.7 182.4 L88.74 183.3 L89.77 183.32 L90.8 183.8 L91.83 183.93 L92.86 183.14 L93.9 182.7 L94.93 182.8 L95.96 182.29 L96.99 181.63 L98.02 180.77 L99.06 178.53 L100.09 176.24 L101.12 174.25 L102.15 171.3 L103.18 168.16 L104.22 165.7 L105.25 163.63 L106.28 160.72 L107.31 157.39 L108.34 156.28 L109.38 156.37 L110.41 155.27 L111.44 153.95 L112.47 153.13 L113.5 152.67 L114.54 153.1 L115.57 153.6 L116.6 153.69 L117.63 153.66 L118.66 154.57 L119.7 156.56 L120.73 157.93 L121.76 158.5 L122.79 159.93 L123.82 161.89 L124.86 163.92 L125.89 166.92 L126.92 170.33 L127.95 173.32 L128.98 175.25 L130.02 176.8 L131.05 179 L132.08 180.67 L133.11 181.52 L134.14 182.24 L135.18 183.3 L136.21 184.88 L137.24 185.69 L138.27 185.17 L139.3 184.68 L140.34 185.01 L141.37 185.62 L142.4 185.34 L143.43 183.95 L144.46 181.96 L145.5 179.96 L146.53 178.31 L147.56 176.04 L148.59 173.24 L149.62 170.42 L150.66 167.17 L151.69 163.41 L152.72 160.43 L153.75 159.05 L154.78 158.32 L155.82 156.59 L156.85 154.39 L157.88 153.13 L158.91 152.04 L159.94 149.8 L160.98 148.43 L162.01 148.53 L163.04 148.11 L164.07 147.03 L165.1 145.76 L166.14 144.34 L167.17 143.65 L168.2 144.02 L169.23 144.83 L170.26 145.95 L171.3 147.43 L172.33 150.36 L173.36 155.3 L174.39 160.95 L175.42 165.5 L176.46 168.62 L177.49 171.32 L178.52 174.54 L179.55 177.85 L180.58 180.16 L181.62 182.07 L182.65 184.12 L183.68 185.22 L184.71 184.75 L185.74 184.63 L186.78 185.91 L187.81 187 L188.84 187.2 L189.87 186.37 L190.9 184.54 L191.94 182.67 L192.97 179.21 L194 174.44 L195.03 169.99 L196.06 167.57 L197.1 165.74 L198.13 163.3 L199.16 160.97 L200.19 159.37 L201.22 157.87 L202.26 156.35 L203.29 154.58 L204.32 153.01 L205.35 152.21 L206.38 151.19 L207.42 149.84 L208.45 148.71 L209.48 148.59 L210.51 148.97 L211.54 148.34 L212.58 147.79 L213.61 147.52 L214.64 147.08 L215.67 147.1 L216.7 147.7 L217.74 148.8 L218.77 150.62 L219.8 153.45 L220.83 155.97 L221.86 158.36 L222.9 161.1 L223.93 163.56 L224.96 166.35 L225.99 169.55 L227.02 173.05 L228.06 176.27 L229.09 178.51 L230.12 180.68 L231.15 182.71 L232.18 183.8 L233.22 184.29 L234.25 184.84 L235.28 185.5 L236.31 185.78 L237.34 186.36 L238.38 186.73" fill="none" stroke="#1b70e4" stroke-width="1.25" stroke-linejoin="round"/>
<path d="M39.2 186.75 L40.23 185.94 L41.26 184.58 L42.3 184.4 L43.33 184.02 L44.36 182.06 L45.39 179.59 L46.42 177.55 L47.46 175.71 L48.49 173.55 L49.52 171.3 L50.55 169.55 L51.58 168.37 L52.62 167.52 L53.65 165.79 L54.68 163.58 L55.71 161.93 L56.74 159.66 L57.78 157.45 L58.81 155.38 L59.84 152.27 L60.87 148.71 L61.9 145.34 L62.94 142.63 L63.97 140.95 L65 140.18 L66.03 139.71 L67.06 140.48 L68.1 142.82 L69.13 145.09 L70.16 145.64 L71.19 145.98 L72.22 146.78 L73.26 147.3 L74.29 149.06 L75.32 151.88 L76.35 155.57 L77.38 159.77 L78.42 162.76 L79.45 164.74 L80.48 166.57 L81.51 169.06 L82.54 172.1 L83.58 174.74 L84.61 177.03 L85.64 179.3 L86.67 181.28 L87.7 182.31 L88.74 182.92 L89.77 184.45 L90.8 185.15 L91.83 185.06 L92.86 185.39 L93.9 185.3 L94.93 184.71 L95.96 184.66 L96.99 184.08 L98.02 181.87 L99.06 179.35 L100.09 176.36 L101.12 172.88 L102.15 169.87 L103.18 166.72 L104.22 163.39 L105.25 159.84 L106.28 156.65 L107.31 154.1 L108.34 152.43 L109.38 151.95 L110.41 150.96 L111.44 149.26 L112.47 149.24 L113.5 149.26 L114.54 148.58 L115.57 148.91 L116.6 149.8 L117.63 150.96 L118.66 152.36 L119.7 154.3 L120.73 156.24 L121.76 157.56 L122.79 158.76 L123.82 159.78 L124.86 161.77 L125.89 165.03 L126.92 167.89 L127.95 170.66 L128.98 173.54 L130.02 176.09 L131.05 178 L132.08 179.48 L133.11 180.81 L134.14 181.87 L135.18 182.51 L136.21 182.68 L137.24 183.25 L138.27 183.74 L139.3 183.8 L140.34 184.28 L141.37 184.88 L142.4 185 L143.43 183.95 L144.46 182.04 L145.5 180.24 L146.53 178.58 L147.56 176.71 L148.59 174.41 L149.62 171.79 L150.66 168.54 L151.69 163.99 L152.72 159.97 L153.75 157.06 L154.78 154.77 L155.82 153.16 L156.85 151.27 L157.88 148.84 L158.91 146.91 L159.94 145.13 L160.98 143.64 L162.01 142.43 L163.04 140.74 L164.07 139.9 L165.1 139.09 L166.14 137.7 L167.17 137.81 L168.2 139.2 L169.23 140.12 L170.26 140.63 L171.3 141.88 L172.33 144.66 L173.36 147.45 L174.39 150.4 L175.42 154.76 L176.46 159.34 L177.49 163.83 L178.52 168.44 L179.55 172.81 L180.58 176.41 L181.62 178.56 L182.65 180.99 L183.68 183.24 L184.71 183.69 L185.74 184.1 L186.78 184.77 L187.81 184.94 L188.84 185.02 L189.87 185.18 L190.9 184.05 L191.94 181.42 L192.97 178.43 L194 176.31 L195.03 174.36 L196.06 171.99 L197.1 169.84 L198.13 167.43 L199.16 164.81 L200.19 162.59 L201.22 160.29 L202.26 158.04 L203.29 156.27 L204.32 154.58 L205.35 152.56 L206.38 150.78 L207.42 149.26 L208.45 147.74 L209.48 147.63 L210.51 147.7 L211.54 145.47 L212.58 142.97 L213.61 142.08 L214.64 141.19 L215.67 139.14 L216.7 136.76 L217.74 135.84 L218.77 137.24 L219.8 139.72 L220.83 142.21 L221.86 145.52 L222.9 149.3 L223.93 152.28 L224.96 155.57 L225.99 159.36 L227.02 162.97 L228.06 167.41 L229.09 171.37 L230.12 173.38 L231.15 175.73 L232.18 178.69 L233.22 180.87 L234.25 182.58 L235.28 183.82 L236.31 184.22 L237.34 184.68 L238.38 185.14" fill="none" stroke="#22b46a" stroke-width="1.25" stroke-linejoin="round"/>
<text x="259.2" y="20" font-family='"Liberation Sans", "DejaVu Sans", "Noto Sans CJK SC", sans-serif' font-size="12.5" fill="#111" stroke="#111" stroke-width="0.2">a</text>
<path d="M311.5 20.68 V187.9 H519.1" fill="none" stroke="#111" stroke-width="1.45"/>
<path d="M311.5 187.9 h-3.5 M311.5 173.97 h-1.8 M311.5 160.03 h-3.5 M311.5 146.09 h-1.8 M311.5 132.16 h-3.5 M311.5 118.22 h-1.8 M311.5 104.29 h-3.5 M311.5 90.35 h-1.8 M311.5 76.42 h-3.5 M311.5 62.48 h-1.8 M311.5 48.55 h-3.5 M311.5 34.62 h-1.8 M311.5 20.68 h-3.5 M311.5 187.9 v3.2 M324.48 187.9 v1.8 M337.45 187.9 v3.2 M350.43 187.9 v1.8 M363.4 187.9 v3.2 M376.38 187.9 v1.8 M389.35 187.9 v3.2 M402.33 187.9 v1.8 M415.3 187.9 v3.2 M428.28 187.9 v1.8 M441.25 187.9 v3.2 M454.23 187.9 v1.8 M467.2 187.9 v3.2 M480.18 187.9 v1.8 M493.15 187.9 v3.2 M506.12 187.9 v1.8 M519.1 187.9 v3.2" stroke="#111" stroke-width="1.15"/>
<text transform="translate(306.3 191) scale(1 1.03)" font-family='"Liberation Sans", "DejaVu Sans", "Noto Sans CJK SC", sans-serif' font-size="8.4" fill="#111" text-anchor="end" font-weight="bold" textLength="11" lengthAdjust="spacingAndGlyphs" stroke="#111" stroke-width="0.2">0.0</text>
<text transform="translate(306.3 163.13) scale(1 1.03)" font-family='"Liberation Sans", "DejaVu Sans", "Noto Sans CJK SC", sans-serif' font-size="8.4" fill="#111" text-anchor="end" font-weight="bold" textLength="11" lengthAdjust="spacingAndGlyphs" stroke="#111" stroke-width="0.2">0.1</text>
<text transform="translate(306.3 135.26) scale(1 1.03)" font-family='"Liberation Sans", "DejaVu Sans", "Noto Sans CJK SC", sans-serif' font-size="8.4" fill="#111" text-anchor="end" font-weight="bold" textLength="11" lengthAdjust="spacingAndGlyphs" stroke="#111" stroke-width="0.2">0.2</text>
<text transform="translate(306.3 107.39) scale(1 1.03)" font-family='"Liberation Sans", "DejaVu Sans", "Noto Sans CJK SC", sans-serif' font-size="8.4" fill="#111" text-anchor="end" font-weight="bold" textLength="11" lengthAdjust="spacingAndGlyphs" stroke="#111" stroke-width="0.2">0.3</text>
<text transform="translate(306.3 79.52) scale(1 1.03)" font-family='"Liberation Sans", "DejaVu Sans", "Noto Sans CJK SC", sans-serif' font-size="8.4" fill="#111" text-anchor="end" font-weight="bold" textLength="11" lengthAdjust="spacingAndGlyphs" stroke="#111" stroke-width="0.2">0.4</text>
<text transform="translate(306.3 51.65) scale(1 1.03)" font-family='"Liberation Sans", "DejaVu Sans", "Noto Sans CJK SC", sans-serif' font-size="8.4" fill="#111" text-anchor="end" font-weight="bold" textLength="11" lengthAdjust="spacingAndGlyphs" stroke="#111" stroke-width="0.2">0.5</text>
<text transform="translate(306.3 23.78) scale(1 1.03)" font-family='"Liberation Sans", "DejaVu Sans", "Noto Sans CJK SC", sans-serif' font-size="8.4" fill="#111" text-anchor="end" font-weight="bold" textLength="11" lengthAdjust="spacingAndGlyphs" stroke="#111" stroke-width="0.2">0.6</text>
<text transform="translate(311.5 200) scale(1 1.2)" font-family='"Liberation Sans", "DejaVu Sans", "Noto Sans CJK SC", sans-serif' font-size="8" fill="#111" text-anchor="middle" font-weight="bold" textLength="10.6" lengthAdjust="spacingAndGlyphs" stroke="#111" stroke-width="0.2">0.0</text>
<text transform="translate(337.45 200) scale(1 1.2)" font-family='"Liberation Sans", "DejaVu Sans", "Noto Sans CJK SC", sans-serif' font-size="8" fill="#111" text-anchor="middle" font-weight="bold" textLength="10.6" lengthAdjust="spacingAndGlyphs" stroke="#111" stroke-width="0.2">0.5</text>
<text transform="translate(363.4 200) scale(1 1.2)" font-family='"Liberation Sans", "DejaVu Sans", "Noto Sans CJK SC", sans-serif' font-size="8" fill="#111" text-anchor="middle" font-weight="bold" textLength="10.6" lengthAdjust="spacingAndGlyphs" stroke="#111" stroke-width="0.2">1.0</text>
<text transform="translate(389.35 200) scale(1 1.2)" font-family='"Liberation Sans", "DejaVu Sans", "Noto Sans CJK SC", sans-serif' font-size="8" fill="#111" text-anchor="middle" font-weight="bold" textLength="10.6" lengthAdjust="spacingAndGlyphs" stroke="#111" stroke-width="0.2">1.5</text>
<text transform="translate(415.3 200) scale(1 1.2)" font-family='"Liberation Sans", "DejaVu Sans", "Noto Sans CJK SC", sans-serif' font-size="8" fill="#111" text-anchor="middle" font-weight="bold" textLength="10.6" lengthAdjust="spacingAndGlyphs" stroke="#111" stroke-width="0.2">2.0</text>
<text transform="translate(441.25 200) scale(1 1.2)" font-family='"Liberation Sans", "DejaVu Sans", "Noto Sans CJK SC", sans-serif' font-size="8" fill="#111" text-anchor="middle" font-weight="bold" textLength="10.6" lengthAdjust="spacingAndGlyphs" stroke="#111" stroke-width="0.2">2.5</text>
<text transform="translate(467.2 200) scale(1 1.2)" font-family='"Liberation Sans", "DejaVu Sans", "Noto Sans CJK SC", sans-serif' font-size="8" fill="#111" text-anchor="middle" font-weight="bold" textLength="10.6" lengthAdjust="spacingAndGlyphs" stroke="#111" stroke-width="0.2">3.0</text>
<text transform="translate(493.15 200) scale(1 1.2)" font-family='"Liberation Sans", "DejaVu Sans", "Noto Sans CJK SC", sans-serif' font-size="8" fill="#111" text-anchor="middle" font-weight="bold" textLength="10.6" lengthAdjust="spacingAndGlyphs" stroke="#111" stroke-width="0.2">3.5</text>
<text transform="translate(519.1 200) scale(1 1.2)" font-family='"Liberation Sans", "DejaVu Sans", "Noto Sans CJK SC", sans-serif' font-size="8" fill="#111" text-anchor="middle" font-weight="bold" textLength="10.6" lengthAdjust="spacingAndGlyphs" stroke="#111" stroke-width="0.2">4.0</text>
<text transform="translate(415.3 210.5) scale(1 1.2)" font-family='"Liberation Sans", "DejaVu Sans", "Noto Sans CJK SC", sans-serif' font-size="8.4" fill="#111" text-anchor="middle" font-weight="bold" textLength="27.5" lengthAdjust="spacingAndGlyphs" stroke="#111" stroke-width="0.2">x (mm)</text>
<text transform="translate(291.2 104.79) rotate(-90)" x="-27.4" font-family='"Liberation Sans", "DejaVu Sans", "Noto Sans CJK SC", sans-serif' font-weight="bold" font-size="8.7" fill="#111" stroke="#111" stroke-width="0.2" textLength="54.8" lengthAdjust="spacingAndGlyphs">Area Fraction</text>
<polygon points="337.9,78.1 359.1,78.1 379.8,48.3 358.6,48.3" fill="url(#gTop)"/>
<polygon points="359.1,78.1 379.8,48.3 379.8,61.1 359.1,90.9" fill="url(#gSide)"/>
<rect x="337.9" y="78.1" width="21.2" height="12.8" fill="url(#gFront)"/>
<line x1="346.7" y1="78.1" x2="367.4" y2="48.3" stroke="#111" stroke-width="1.35"/>
<line x1="345.8" y1="78.1" x2="366.5" y2="48.3" stroke="#c99" stroke-width="0.5" opacity="0.8"/>
<line x1="346.7" y1="78.1" x2="346.7" y2="96.1" stroke="#c88" stroke-width="0.6"/>
<polygon points="347.2,90.9 349.7,90.9 347.2,96.6" fill="#111"/>
<line x1="358.6" y1="48.3" x2="358.6" y2="32.1" stroke="#1aa04a" stroke-width="1.2"/>
<polygon points="357,32.6 360.2,32.6 358.6,28.6" fill="#1aa04a"/>
<line x1="379.8" y1="60.5" x2="387.8" y2="60.5" stroke="#e02020" stroke-width="1.2"/>
<polygon points="387.3,58.9 387.3,62.1 390.8,60.5" fill="#e02020"/>
<line x1="338.7" y1="89.4" x2="333.4" y2="96.4" stroke="#2030c0" stroke-width="1.1"/>
<text x="358.6" y="26.6" text-anchor="middle" font-family='"Liberation Sans", "DejaVu Sans", "Noto Sans CJK SC", sans-serif' font-size="9" fill="#333">y</text>
<text x="393.4" y="63.1" text-anchor="middle" font-family='"Liberation Sans", "DejaVu Sans", "Noto Sans CJK SC", sans-serif' font-size="9" fill="#333">x</text>
<text x="331.6" y="100.5" text-anchor="middle" font-family='"Liberation Sans", "DejaVu Sans", "Noto Sans CJK SC", sans-serif' font-size="9" fill="#333">z</text>
<text x="368.6" y="44.1" text-anchor="middle" font-family='"Liberation Sans", "DejaVu Sans", "Noto Sans CJK SC", sans-serif' font-size="9.4" fill="#222" stroke="#222" stroke-width="0.25">A</text>
<text x="344.3" y="75.3" text-anchor="middle" font-family='"Liberation Sans", "DejaVu Sans", "Noto Sans CJK SC", sans-serif' font-size="9.4" fill="#222" stroke="#222" stroke-width="0.25">A</text>
<clipPath id="mc12"><rect x="413.7" y="45.3" width="80.8" height="46.5"/></clipPath>
<rect x="413.7" y="45.3" width="80.8" height="46.5" fill="#676767"/>
<g clip-path="url(#mc12)">
<rect x="413.7" y="45.3" width="80.8" height="46.5" filter="url(#noise)" opacity="0.38"/>
<g fill="#3a3a3a" opacity="0.45" filter="url(#soft)"><ellipse cx="424.19" cy="47.93" rx="4.47" ry="1.31"/><ellipse cx="423.97" cy="54.02" rx="4.05" ry="1.77"/><ellipse cx="422.74" cy="59.46" rx="5.09" ry="1.37"/><ellipse cx="421.76" cy="67.7" rx="6.36" ry="1.29"/><ellipse cx="428.43" cy="72.91" rx="5.01" ry="1.2"/><ellipse cx="424.71" cy="80.55" rx="6.1" ry="1.22"/><ellipse cx="423.93" cy="86.63" rx="5.2" ry="1.46"/><ellipse cx="444.39" cy="47.03" rx="5.97" ry="1.47"/><ellipse cx="442.24" cy="54.67" rx="6.01" ry="1.7"/><ellipse cx="446.2" cy="60.36" rx="4.08" ry="1.48"/><ellipse cx="443.15" cy="67.56" rx="5.82" ry="1.49"/><ellipse cx="440.1" cy="73.35" rx="5.48" ry="1.31"/><ellipse cx="444.97" cy="80.34" rx="5.42" ry="1.66"/><ellipse cx="446.76" cy="86.58" rx="6.43" ry="1.25"/><ellipse cx="466.26" cy="47.54" rx="4.43" ry="1.42"/><ellipse cx="465.53" cy="54.32" rx="5.31" ry="1.59"/><ellipse cx="464.91" cy="60.07" rx="4.64" ry="1.55"/><ellipse cx="465.78" cy="67.86" rx="4.03" ry="1.23"/><ellipse cx="464.79" cy="72.63" rx="4.24" ry="1.36"/><ellipse cx="465.12" cy="80.57" rx="4.69" ry="1.65"/><ellipse cx="469.32" cy="87.04" rx="6.12" ry="1.47"/><ellipse cx="483.07" cy="47.54" rx="4.54" ry="1.38"/><ellipse cx="483.5" cy="54.29" rx="5.91" ry="1.62"/><ellipse cx="482.74" cy="59.44" rx="5.63" ry="1.31"/><ellipse cx="484.77" cy="66.44" rx="5.63" ry="1.24"/><ellipse cx="485.5" cy="72.8" rx="4.42" ry="1.77"/><ellipse cx="480.65" cy="80.29" rx="5.14" ry="1.21"/><ellipse cx="484.68" cy="86.73" rx="4.32" ry="1.59"/></g>
<path d="M424.3 46.8 h2.84 v1.69 h-2.84Z M418.91 47.12 h1.66 v1.21 h-1.66Z M422.35 47.92 h2.2 v1.74 h-2.2Z M420.78 47.37 h2.51 v1.76 h-2.51Z M427.18 46.81 h1.6 v1.75 h-1.6Z M424.47 47.28 h2.11 v1.18 h-2.11Z M425.48 47.16 h2.67 v1.16 h-2.67Z M423.79 53.91 h1.99 v1.14 h-1.99Z M424.95 53.56 h2.59 v1.48 h-2.59Z M424.52 53.23 h2.34 v1.72 h-2.34Z M420.75 53.67 h2.92 v1.75 h-2.92Z M422.47 53.87 h2.61 v1.76 h-2.61Z M419.46 53.14 h2.25 v1.36 h-2.25Z M417.37 58.67 h2.65 v1.7 h-2.65Z M426.02 59.46 h2.84 v1.56 h-2.84Z M417.45 58.78 h1.78 v1.06 h-1.78Z M423.38 58.93 h2.54 v1.07 h-2.54Z M425.18 58.57 h2.67 v1.49 h-2.67Z M415.68 66.35 h2.55 v1.71 h-2.55Z M419.87 66.87 h2.79 v1.43 h-2.79Z M424.4 66.87 h1.73 v1.15 h-1.73Z M414.18 67.23 h2.63 v1.72 h-2.63Z M414.8 67.67 h2.67 v1.54 h-2.67Z M420.48 67.55 h2.54 v1.2 h-2.54Z M424.19 66.45 h1.55 v1.75 h-1.55Z M415.76 66.69 h1.58 v1.01 h-1.58Z M431.16 72.34 h1.62 v1.06 h-1.62Z M430.47 72.48 h1.73 v1.33 h-1.73Z M424.69 72.37 h2.69 v1.38 h-2.69Z M432.42 71.59 h1.94 v1.71 h-1.94Z M426.7 72.38 h2.15 v1.32 h-2.15Z M431.14 72.47 h2.32 v1.45 h-2.32Z M422.92 72.85 h1.85 v1 h-1.85Z M429.26 71.94 h2.01 v1.34 h-2.01Z M426.08 80.12 h1.94 v1.14 h-1.94Z M424.67 79.51 h1.7 v1.23 h-1.7Z M420.39 79.22 h2.42 v1.38 h-2.42Z M423.09 79.55 h2.97 v1.31 h-2.97Z M418.55 80.02 h1.51 v1.16 h-1.51Z M424.59 79.51 h2.75 v1.76 h-2.75Z M418.86 79.94 h2.49 v1.79 h-2.49Z M419.92 80.06 h2 v1.16 h-2Z M426.56 85.92 h2.99 v1.55 h-2.99Z M426.7 85.72 h2.85 v1.71 h-2.85Z M424.2 85.84 h2.52 v1.03 h-2.52Z M421.4 85.73 h1.94 v1.64 h-1.94Z M426.69 86.14 h2.43 v1.62 h-2.43Z M446.39 46.03 h2.8 v1.59 h-2.8Z M437.9 46.77 h2.87 v1.22 h-2.87Z M437.41 46.36 h2.31 v1.08 h-2.31Z M437.69 46.19 h2.74 v1.77 h-2.74Z M438.77 46.23 h2.52 v1.06 h-2.52Z M447.66 45.66 h2.52 v1.38 h-2.52Z M446.88 47.02 h1.93 v1.19 h-1.93Z M449.1 46.39 h2.12 v1.75 h-2.12Z M444.36 54.45 h2.75 v1.04 h-2.75Z M447.31 54.62 h1.63 v1.58 h-1.63Z M443.77 54.64 h1.95 v1.43 h-1.95Z M436.97 53.99 h2.44 v1.57 h-2.44Z M441.34 53.39 h2.84 v1.73 h-2.84Z M442.57 54.25 h1.57 v1.46 h-1.57Z M441.58 53.31 h1.71 v1.77 h-1.71Z M444.27 53.99 h1.99 v1.35 h-1.99Z M443.59 59.79 h2.9 v1.02 h-2.9Z M444.46 60.07 h2.11 v1.78 h-2.11Z M443.57 59.33 h2.02 v1.71 h-2.02Z M441.56 58.98 h2.76 v1.45 h-2.76Z M443.76 59.69 h1.69 v1.22 h-1.69Z M445.23 59.4 h2.21 v1.7 h-2.21Z M442.47 59.49 h2.79 v1.28 h-2.79Z M444.76 66.71 h2.08 v1.62 h-2.08Z M437.45 66.41 h2.24 v1.77 h-2.24Z M445 66.79 h2.44 v1.11 h-2.44Z M440.92 66.98 h1.91 v1.08 h-1.91Z M446.94 65.91 h2.38 v1.21 h-2.38Z M446.99 66.78 h2.7 v1.08 h-2.7Z M440.57 67.76 h1.94 v1.09 h-1.94Z M438.69 72.91 h2.65 v1.75 h-2.65Z M439.33 73.11 h1.97 v1.71 h-1.97Z M437.48 73.34 h1.82 v1.12 h-1.82Z M440.54 72.88 h2.18 v1.26 h-2.18Z M442.4 72.85 h1.86 v1.23 h-1.86Z M435.56 72.38 h2.28 v1.56 h-2.28Z M434.74 72.41 h2.31 v1.78 h-2.31Z M444.25 72.17 h2.4 v1.2 h-2.4Z M446.67 80.04 h1.91 v1.09 h-1.91Z M442.78 79.38 h2.09 v1.76 h-2.09Z M441.4 79.34 h1.52 v1.39 h-1.52Z M441.2 80.38 h2.54 v1.26 h-2.54Z M440.06 79.74 h1.78 v1.25 h-1.78Z M438.86 79.09 h1.86 v1.6 h-1.86Z M443.2 79.45 h2 v1.62 h-2Z M439.33 79.88 h1.98 v1.33 h-1.98Z M450.89 85.43 h2.17 v1.42 h-2.17Z M440.78 85.49 h2.55 v1.48 h-2.55Z M441.78 85.43 h2.98 v1.16 h-2.98Z M449.46 86.26 h2.31 v1.13 h-2.31Z M445.16 85.85 h2.49 v1.67 h-2.49Z M446.02 85.72 h1.55 v1.64 h-1.55Z M445.85 86.05 h2.77 v1.51 h-2.77Z M462.45 46.86 h1.7 v1.67 h-1.7Z M462.56 46.9 h1.75 v1.1 h-1.75Z M460.82 47.28 h2.75 v1.73 h-2.75Z M465.35 46.27 h2.48 v1.77 h-2.48Z M462.73 46.7 h1.9 v1.66 h-1.9Z M468.65 46.99 h2.94 v1.01 h-2.94Z M462.26 46.99 h1.99 v1.29 h-1.99Z M460.88 54.35 h1.89 v1.33 h-1.89Z M468.72 53.76 h2.13 v1.28 h-2.13Z M460.25 54.07 h1.81 v1.41 h-1.81Z M459.25 53.3 h2.92 v1.39 h-2.92Z M461.85 54.07 h2.57 v1.28 h-2.57Z M468.21 53.22 h1.98 v1.76 h-1.98Z M465 52.77 h1.63 v1.75 h-1.63Z M466.52 58.94 h2.24 v1.61 h-2.24Z M459.82 60.01 h2.61 v1.6 h-2.61Z M461.64 59.14 h2.42 v1.61 h-2.42Z M464.2 58.85 h2.11 v1.18 h-2.11Z M467.21 59.6 h2.42 v1.58 h-2.42Z M463.71 66.3 h2.07 v1.64 h-2.07Z M466.5 66.97 h2.59 v1.02 h-2.59Z M460.67 67.45 h2.88 v1.8 h-2.88Z M461.28 67.04 h1.7 v1.71 h-1.7Z M463.87 66.85 h2.15 v1.31 h-2.15Z M460.88 71.76 h1.95 v1.79 h-1.95Z M460.53 72.41 h2.56 v1.02 h-2.56Z M463.85 70.98 h2.71 v1.29 h-2.71Z M463.46 71.42 h2.54 v1.77 h-2.54Z M465.85 72.15 h2.63 v1.18 h-2.63Z M467.42 72.34 h2.21 v1.66 h-2.21Z M465.78 71.18 h1.94 v1.43 h-1.94Z M464.45 79.07 h1.54 v1.73 h-1.54Z M467.12 79.48 h2.48 v1.54 h-2.48Z M463.87 78.92 h1.53 v1.6 h-1.53Z M466.76 80.19 h2.72 v1.02 h-2.72Z M467.56 79.67 h2.24 v1.8 h-2.24Z M472.29 85.68 h1.91 v1.79 h-1.91Z M471.88 86.54 h2.48 v1.46 h-2.48Z M462.92 86.24 h1.63 v1.54 h-1.63Z M470.05 86.05 h1.93 v1.46 h-1.93Z M471.24 85.86 h1.79 v1.48 h-1.79Z M472.25 85.86 h2.93 v1.8 h-2.93Z M466.78 85.45 h2.48 v1.52 h-2.48Z M472.93 86.42 h2.88 v1.38 h-2.88Z M480.54 46.63 h2.5 v1.32 h-2.5Z M480.96 46.45 h2.41 v1.25 h-2.41Z M477.73 47.28 h1.99 v1.62 h-1.99Z M485.56 46.96 h2.04 v1.79 h-2.04Z M484.76 46.74 h1.86 v1.74 h-1.86Z M482.96 46.91 h1.86 v1.56 h-1.86Z M477.81 53.57 h2.27 v1.6 h-2.27Z M485.8 53.97 h1.53 v1.1 h-1.53Z M484.12 53.66 h1.59 v1.64 h-1.59Z M482.77 53.21 h1.54 v1.32 h-1.54Z M487.69 53.65 h1.81 v1.31 h-1.81Z M482.48 53.16 h1.62 v1.48 h-1.62Z M476.69 54.64 h1.9 v1.2 h-1.9Z M484.27 58.32 h2.36 v1.44 h-2.36Z M476.24 60.06 h1.88 v1.56 h-1.88Z M477.12 59.18 h2.06 v1.57 h-2.06Z M479.26 58.16 h1.9 v1.04 h-1.9Z M486.83 58.75 h2.84 v1.4 h-2.84Z M486.72 58.77 h1.77 v1.19 h-1.77Z M488.54 65.57 h2.83 v1.4 h-2.83Z M484.95 65.23 h2.31 v1.77 h-2.31Z M487.83 65.83 h2.61 v1.13 h-2.61Z M480.85 65.54 h1.93 v1.74 h-1.93Z M480.14 65.94 h1.78 v1.58 h-1.78Z M485.65 72.21 h1.51 v1.08 h-1.51Z M487.29 72.3 h2.62 v1.72 h-2.62Z M488.02 73.04 h2.83 v1.23 h-2.83Z M486.91 72.14 h2.12 v1.66 h-2.12Z M483.7 71.93 h2.38 v1.1 h-2.38Z M488.44 72.15 h1.95 v1.3 h-1.95Z M477.82 79.14 h1.56 v1.74 h-1.56Z M475.59 79.6 h2.27 v1.73 h-2.27Z M480.57 79.75 h2.38 v1.41 h-2.38Z M474.68 79.66 h2.7 v1.62 h-2.7Z M477.82 79.51 h2.12 v1.44 h-2.12Z M487.05 85.83 h2.04 v1.79 h-2.04Z M482.24 85.87 h1.78 v1.62 h-1.78Z M480.42 86.19 h2.01 v1.54 h-2.01Z M485.73 86.99 h1.91 v1.03 h-1.91Z M482.84 86.31 h2.36 v1.1 h-2.36Z" fill="#222" opacity="0.8"/>
</g>
<line x1="413.7" y1="45.6" x2="494.5" y2="45.6" stroke="#9a8a70" stroke-width="0.7"/>
<line x1="413.2" y1="91.8" x2="413.2" y2="34.1" stroke="#22c060" stroke-width="1.2"/>
<polygon points="411.7,34.6 414.7,34.6 413.2,31.1" fill="#22c060"/>
<line x1="413.2" y1="92" x2="501" y2="92" stroke="#f03040" stroke-width="1.2"/>
<polygon points="500.5,90.5 500.5,93.5 504,92" fill="#f03040"/>
<text x="413.7" y="27.2" font-family='"Liberation Sans", "DejaVu Sans", "Noto Sans CJK SC", sans-serif' font-size="9.5" fill="#333" text-anchor="middle">y</text>
<text x="507.5" y="95.7" font-family='"Liberation Sans", "DejaVu Sans", "Noto Sans CJK SC", sans-serif' font-size="9.5" fill="#333" text-anchor="middle">x</text>
<rect x="329.4" y="102.3" width="69.1" height="32.7" fill="#fff" stroke="#6a6a6a" stroke-width="1"/>
<line x1="330.8" y1="107.8" x2="349.7" y2="107.8" stroke="#505050" stroke-width="1.4"/>
<text transform="translate(352.6 110.9) scale(1 1.08)" font-family='"Liberation Sans", "DejaVu Sans", "Noto Sans CJK SC", sans-serif' font-size="8.4" fill="#333" textLength="44.4" lengthAdjust="spacingAndGlyphs">100mm/min</text>
<line x1="330.8" y1="118.6" x2="349.7" y2="118.6" stroke="#f4485a" stroke-width="1.4"/>
<text transform="translate(352.6 121.7) scale(1 1.08)" font-family='"Liberation Sans", "DejaVu Sans", "Noto Sans CJK SC", sans-serif' font-size="8.4" fill="#333" textLength="44.4" lengthAdjust="spacingAndGlyphs">150mm/min</text>
<line x1="330.8" y1="129.2" x2="349.7" y2="129.2" stroke="#1b70e4" stroke-width="1.4"/>
<text transform="translate(352.6 132.3) scale(1 1.08)" font-family='"Liberation Sans", "DejaVu Sans", "Noto Sans CJK SC", sans-serif' font-size="8.4" fill="#333" textLength="44.4" lengthAdjust="spacingAndGlyphs">200mm/min</text>
<rect x="422.1" y="101.4" width="70.1" height="35.9" fill="#fff" stroke="#6a6a6a" stroke-width="1"/>
<text transform="translate(423 110.1) scale(1 1.1)" font-family='"Liberation Sans", "DejaVu Sans", "Noto Sans CJK SC", sans-serif' fill="#333" textLength="68" lengthAdjust="spacingAndGlyphs"><tspan font-size="8.2" y="0">SVF</tspan><tspan font-size="5.6" y="2">(100mm/min)</tspan><tspan font-size="8.2" y="0">:7.077</tspan></text>
<text transform="translate(423 121) scale(1 1.1)" font-family='"Liberation Sans", "DejaVu Sans", "Noto Sans CJK SC", sans-serif' fill="#333" textLength="68" lengthAdjust="spacingAndGlyphs"><tspan font-size="8.2" y="0">SVF</tspan><tspan font-size="5.6" y="2">(150mm/min)</tspan><tspan font-size="8.2" y="0">:7.743</tspan></text>
<text transform="translate(423 131.9) scale(1 1.1)" font-family='"Liberation Sans", "DejaVu Sans", "Noto Sans CJK SC", sans-serif' fill="#333" textLength="68" lengthAdjust="spacingAndGlyphs"><tspan font-size="8.2" y="0">SVF</tspan><tspan font-size="5.6" y="2">(200mm/min)</tspan><tspan font-size="8.2" y="0">:7.299</tspan></text>
<path d="M312.2 186.9 L313.23 187 L314.26 186.19 L315.3 185.06 L316.33 184.34 L317.36 184.33 L318.39 184.34 L319.42 183.4 L320.46 181.45 L321.49 179.71 L322.52 179.04 L323.55 178.35 L324.58 175.37 L325.62 170.66 L326.65 167 L327.68 163.96 L328.71 160.73 L329.74 157.72 L330.78 154.87 L331.81 152.28 L332.84 150.17 L333.87 148.21 L334.9 146.89 L335.94 145.93 L336.97 144.9 L338 145.13 L339.03 146.35 L340.06 147.11 L341.1 147.64 L342.13 148.45 L343.16 149.37 L344.19 150.03 L345.22 150.93 L346.26 152.47 L347.29 154.1 L348.32 155.68 L349.35 157.65 L350.38 159.44 L351.42 161.08 L352.45 163.12 L353.48 165 L354.51 167.98 L355.54 171.5 L356.58 173.96 L357.61 176.54 L358.64 178.8 L359.67 180.82 L360.7 182.93 L361.74 183.84 L362.77 183.92 L363.8 184.33 L364.83 184.99 L365.86 185.24 L366.9 185.41 L367.93 184.88 L368.96 183.21 L369.99 181.11 L371.02 178.88 L372.06 176.47 L373.09 174.51 L374.12 172.65 L375.15 170.94 L376.18 169.49 L377.22 167.26 L378.25 164.96 L379.28 163.53 L380.31 161.94 L381.34 159.93 L382.38 158.22 L383.41 157.05 L384.44 156.05 L385.47 155.05 L386.5 154.57 L387.54 154.24 L388.57 154.16 L389.6 155.26 L390.63 156.57 L391.66 156.99 L392.7 157.2 L393.73 158.64 L394.76 160.69 L395.79 162.06 L396.82 163.26 L397.86 165.21 L398.89 166.86 L399.92 168.15 L400.95 170.13 L401.98 171.86 L403.02 173.45 L404.05 175.61 L405.08 177.37 L406.11 179.07 L407.14 181.41 L408.18 183.41 L409.21 184.39 L410.24 184.58 L411.27 184.74 L412.3 185.05 L413.34 185.34 L414.37 185.29 L415.4 184.73 L416.43 183.67 L417.46 182.42 L418.5 181.23 L419.53 178.85 L420.56 175.86 L421.59 174.03 L422.62 172.04 L423.66 168.99 L424.69 166.91 L425.72 165.16 L426.75 162.56 L427.78 160.52 L428.82 158.94 L429.85 156.99 L430.88 154.75 L431.91 152.1 L432.94 150.04 L433.98 149.05 L435.01 147.51 L436.04 146.28 L437.07 146.1 L438.1 145.5 L439.14 145.09 L440.17 145.4 L441.2 145.64 L442.23 145.89 L443.26 146.9 L444.3 148.59 L445.33 150.91 L446.36 154.41 L447.39 158.5 L448.42 162.17 L449.46 166.08 L450.49 169.54 L451.52 172.27 L452.55 175.23 L453.58 177.97 L454.62 180.16 L455.65 182.11 L456.68 183.04 L457.71 183.41 L458.74 183.85 L459.78 184.42 L460.81 185.6 L461.84 185.83 L462.87 184.59 L463.9 184.47 L464.94 184.82 L465.97 183.93 L467 183.51 L468.03 181.03 L469.06 175.15 L470.1 169.5 L471.13 165.96 L472.16 163.79 L473.19 161.8 L474.22 159.72 L475.26 158.2 L476.29 156.68 L477.32 154.6 L478.35 152.52 L479.38 151.44 L480.42 150.93 L481.45 149.76 L482.48 147.9 L483.51 146.48 L484.54 146.05 L485.58 146.11 L486.61 146.26 L487.64 147.35 L488.67 148.71 L489.7 148.84 L490.74 150.17 L491.77 153.72 L492.8 156.81 L493.83 159.2 L494.86 161.39 L495.9 163.78 L496.93 166.13 L497.96 167.79 L498.99 168.95 L500.02 171.18 L501.06 174.72 L502.09 176.96 L503.12 178.94 L504.15 182.73 L505.18 185.42 L506.22 185.52 L507.25 185.28 L508.28 185.27 L509.31 185.89 L510.34 186.39 L511.38 186.1 L512.41 185.49 L513.44 185.22 L514.47 186.07 L515.5 187.1 L516.54 186.67 L517.57 185.74" fill="none" stroke="#3a3a3a" stroke-width="1.25" stroke-linejoin="round"/>
<path d="M312.2 185.25 L313.23 185.53 L314.26 186.52 L315.3 185.63 L316.33 183.82 L317.36 182.91 L318.39 182.2 L319.42 181.26 L320.46 180.38 L321.49 179.23 L322.52 178.04 L323.55 176.88 L324.58 174.38 L325.62 170.78 L326.65 166.88 L327.68 162.49 L328.71 158.25 L329.74 154.26 L330.78 150.66 L331.81 148 L332.84 146.61 L333.87 145.06 L334.9 143.43 L335.94 143.44 L336.97 144.59 L338 145.02 L339.03 144.84 L340.06 144.93 L341.1 144.86 L342.13 145.19 L343.16 145.89 L344.19 146.27 L345.22 146.77 L346.26 147.49 L347.29 148.41 L348.32 149.96 L349.35 151.73 L350.38 153.28 L351.42 155.1 L352.45 158.76 L353.48 162.71 L354.51 165.81 L355.54 169.47 L356.58 173.03 L357.61 175.37 L358.64 177.59 L359.67 179.94 L360.7 181.9 L361.74 183.79 L362.77 185.02 L363.8 184.73 L364.83 184.76 L365.86 185.48 L366.9 185.99 L367.93 186.15 L368.96 185.39 L369.99 183.55 L371.02 181.48 L372.06 179.27 L373.09 176.19 L374.12 172.86 L375.15 169.48 L376.18 165.1 L377.22 160.95 L378.25 157.02 L379.28 152.67 L380.31 149.08 L381.34 145.51 L382.38 143.05 L383.41 143.18 L384.44 143.18 L385.47 142.78 L386.5 142.54 L387.54 143.22 L388.57 144.74 L389.6 146.65 L390.63 148.89 L391.66 151.05 L392.7 152.98 L393.73 155.5 L394.76 158.81 L395.79 161.09 L396.82 163.13 L397.86 166.4 L398.89 169.22 L399.92 170.88 L400.95 172.31 L401.98 173.93 L403.02 175.71 L404.05 176.87 L405.08 177.67 L406.11 179.36 L407.14 181.09 L408.18 182.13 L409.21 183.6 L410.24 184.87 L411.27 184.94 L412.3 184.68 L413.34 184.53 L414.37 184.02 L415.4 183.36 L416.43 182.86 L417.46 181.82 L418.5 180.83 L419.53 180.16 L420.56 178.05 L421.59 174.95 L422.62 172.81 L423.66 170.49 L424.69 167.13 L425.72 164.29 L426.75 161.6 L427.78 157.79 L428.82 154.53 L429.85 152.69 L430.88 151.32 L431.91 149.82 L432.94 148.26 L433.98 146.67 L435.01 145 L436.04 143.45 L437.07 142.08 L438.1 140.98 L439.14 140.66 L440.17 141.94 L441.2 144.59 L442.23 146.59 L443.26 147.79 L444.3 149.83 L445.33 153.36 L446.36 157.71 L447.39 162.01 L448.42 165.32 L449.46 168.52 L450.49 171.94 L451.52 174.71 L452.55 176.86 L453.58 179.27 L454.62 181.1 L455.65 182.14 L456.68 183.16 L457.71 184.34 L458.74 185.3 L459.78 186.01 L460.81 186.63 L461.84 186.63 L462.87 186.19 L463.9 185.96 L464.94 185.12 L465.97 184 L467 184.04 L468.03 183.21 L469.06 181.46 L470.1 180.44 L471.13 178.71 L472.16 176.7 L473.19 175.62 L474.22 174.98 L475.26 173.86 L476.29 171.79 L477.32 169.86 L478.35 164.08 L479.38 159.53 L480.42 156.58 L481.45 154.4 L482.48 153.29 L483.51 152.93 L484.54 152.3 L485.58 151.1 L486.61 148.93 L487.64 146.73 L488.67 146.11 L489.7 145.5 L490.74 144.24 L491.77 143.31 L492.8 142.73 L493.83 143.02 L494.86 144.45 L495.9 146.06 L496.93 147.09 L497.96 148.63 L498.99 150.87 L500.02 153.33 L501.06 157.29 L502.09 161.54 L503.12 165.02 L504.15 168.06 L505.18 169.85 L506.22 171.65 L507.25 174.55 L508.28 176.81 L509.31 178.53 L510.34 180.84 L511.38 183.51 L512.41 185.11 L513.44 185.29 L514.47 185.89 L515.5 186.59 L516.54 186.45 L517.57 186.16" fill="none" stroke="#f4485a" stroke-width="1.25" stroke-linejoin="round"/>
<path d="M312.2 186.12 L313.23 185.32 L314.26 185.1 L315.3 185.01 L316.33 184.72 L317.36 184.23 L318.39 183.02 L319.42 181.85 L320.46 181.51 L321.49 180.6 L322.52 178.83 L323.55 177.27 L324.58 176.06 L325.62 174.52 L326.65 172.03 L327.68 169.61 L328.71 167.66 L329.74 165.36 L330.78 162.84 L331.81 159.55 L332.84 155.21 L333.87 150.94 L334.9 147.52 L335.94 143.84 L336.97 140.9 L338 140.28 L339.03 141.52 L340.06 142.66 L341.1 143.58 L342.13 145.05 L343.16 146.75 L344.19 147.96 L345.22 149.19 L346.26 150.21 L347.29 151.4 L348.32 153.57 L349.35 155.47 L350.38 157.26 L351.42 159.65 L352.45 161.62 L353.48 163.27 L354.51 165.42 L355.54 167.66 L356.58 169.06 L357.61 171.05 L358.64 174.3 L359.67 176.91 L360.7 179.35 L361.74 180.92 L362.77 181.62 L363.8 183.39 L364.83 185.35 L365.86 185.67 L366.9 185.36 L367.93 185.25 L368.96 184.91 L369.99 184.48 L371.02 183.61 L372.06 182.77 L373.09 181.4 L374.12 178.77 L375.15 175.52 L376.18 172.32 L377.22 168.42 L378.25 163.63 L379.28 158.33 L380.31 153.44 L381.34 150.26 L382.38 148.18 L383.41 145.48 L384.44 143.26 L385.47 142.21 L386.5 140.6 L387.54 138.79 L388.57 138.05 L389.6 139.13 L390.63 141.43 L391.66 143.76 L392.7 145.52 L393.73 147.93 L394.76 152.15 L395.79 156.41 L396.82 159.88 L397.86 162.89 L398.89 165.85 L399.92 168.42 L400.95 170.4 L401.98 171.97 L403.02 173.33 L404.05 175.15 L405.08 177.09 L406.11 178.64 L407.14 179.92 L408.18 181.07 L409.21 182.41 L410.24 184.01 L411.27 185.31 L412.3 186.05 L413.34 186.85 L414.37 186.73 L415.4 185.37 L416.43 183.97 L417.46 181.94 L418.5 180.14 L419.53 179.27 L420.56 177.53 L421.59 174.74 L422.62 172.2 L423.66 169.88 L424.69 167.12 L425.72 163.97 L426.75 161.5 L427.78 159.49 L428.82 156.98 L429.85 154.54 L430.88 152.36 L431.91 150.08 L432.94 147.97 L433.98 146 L435.01 144.43 L436.04 143.42 L437.07 142.54 L438.1 142.29 L439.14 142.89 L440.17 143.3 L441.2 144.29 L442.23 146.15 L443.26 147.94 L444.3 150.21 L445.33 153.8 L446.36 158.13 L447.39 162.25 L448.42 166.03 L449.46 169.61 L450.49 171.84 L451.52 174.43 L452.55 177.81 L453.58 180.41 L454.62 182.13 L455.65 183.15 L456.68 183.81 L457.71 184.93 L458.74 186.03 L459.78 186.76 L460.81 187.26 L461.84 186.89 L462.87 185.98 L463.9 185.47 L464.94 185.09 L465.97 184.98 L467 184.94 L468.03 184.3 L469.06 183.2 L470.1 181.8 L471.13 180.24 L472.16 178.67 L473.19 176.4 L474.22 170.72 L475.26 164.17 L476.29 160.56 L477.32 158.54 L478.35 155.72 L479.38 153.92 L480.42 153.31 L481.45 152.02 L482.48 150.81 L483.51 149.97 L484.54 149.1 L485.58 148.93 L486.61 149.43 L487.64 149.7 L488.67 149.75 L489.7 150.04 L490.74 150.57 L491.77 151.28 L492.8 151.36 L493.83 151.29 L494.86 152.63 L495.9 154.48 L496.93 157.34 L497.96 161.32 L498.99 165.11 L500.02 168.55 L501.06 172.87 L502.09 176.97 L503.12 179.55 L504.15 181.23 L505.18 183.18 L506.22 185.08 L507.25 186.43 L508.28 186.61 L509.31 185.77 L510.34 185.55 L511.38 185.99 L512.41 185.93 L513.44 185.68 L514.47 185.61 L515.5 185.91 L516.54 186.09 L517.57 185.84" fill="none" stroke="#1b70e4" stroke-width="1.25" stroke-linejoin="round"/>
<text x="533.8" y="20" font-family='"Liberation Sans", "DejaVu Sans", "Noto Sans CJK SC", sans-serif' font-size="12.5" fill="#111" stroke="#111" stroke-width="0.2">b</text>
<path d="M38.3 234.92 V401.6 H245.7" fill="none" stroke="#111" stroke-width="1.45"/>
<path d="M38.3 401.6 h-3.5 M38.3 394.66 h-1.8 M38.3 387.71 h-3.5 M38.3 380.77 h-1.8 M38.3 373.82 h-3.5 M38.3 366.88 h-1.8 M38.3 359.93 h-3.5 M38.3 352.99 h-1.8 M38.3 346.04 h-3.5 M38.3 339.1 h-1.8 M38.3 332.15 h-3.5 M38.3 325.21 h-1.8 M38.3 318.26 h-3.5 M38.3 311.31 h-1.8 M38.3 304.37 h-3.5 M38.3 297.43 h-1.8 M38.3 290.48 h-3.5 M38.3 283.54 h-1.8 M38.3 276.59 h-3.5 M38.3 269.65 h-1.8 M38.3 262.7 h-3.5 M38.3 255.76 h-1.8 M38.3 248.81 h-3.5 M38.3 241.87 h-1.8 M38.3 234.92 h-3.5 M38.3 401.6 v3.2 M51.26 401.6 v1.8 M64.22 401.6 v3.2 M77.19 401.6 v1.8 M90.15 401.6 v3.2 M103.11 401.6 v1.8 M116.08 401.6 v3.2 M129.04 401.6 v1.8 M142 401.6 v3.2 M154.96 401.6 v1.8 M167.93 401.6 v3.2 M180.89 401.6 v1.8 M193.85 401.6 v3.2 M206.81 401.6 v1.8 M219.77 401.6 v3.2 M232.74 401.6 v1.8 M245.7 401.6 v3.2" stroke="#111" stroke-width="1.15"/>
<text transform="translate(33.1 404.7) scale(1 1.03)" font-family='"Liberation Sans", "DejaVu Sans", "Noto Sans CJK SC", sans-serif' font-size="8.4" fill="#111" text-anchor="end" font-weight="bold" textLength="11" lengthAdjust="spacingAndGlyphs" stroke="#111" stroke-width="0.2">0.0</text>
<text transform="translate(33.1 390.81) scale(1 1.03)" font-family='"Liberation Sans", "DejaVu Sans", "Noto Sans CJK SC", sans-serif' font-size="8.4" fill="#111" text-anchor="end" font-weight="bold" textLength="11" lengthAdjust="spacingAndGlyphs" stroke="#111" stroke-width="0.2">0.1</text>
<text transform="translate(33.1 376.92) scale(1 1.03)" font-family='"Liberation Sans", "DejaVu Sans", "Noto Sans CJK SC", sans-serif' font-size="8.4" fill="#111" text-anchor="end" font-weight="bold" textLength="11" lengthAdjust="spacingAndGlyphs" stroke="#111" stroke-width="0.2">0.2</text>
<text transform="translate(33.1 363.03) scale(1 1.03)" font-family='"Liberation Sans", "DejaVu Sans", "Noto Sans CJK SC", sans-serif' font-size="8.4" fill="#111" text-anchor="end" font-weight="bold" textLength="11" lengthAdjust="spacingAndGlyphs" stroke="#111" stroke-width="0.2">0.3</text>
<text transform="translate(33.1 349.14) scale(1 1.03)" font-family='"Liberation Sans", "DejaVu Sans", "Noto Sans CJK SC", sans-serif' font-size="8.4" fill="#111" text-anchor="end" font-weight="bold" textLength="11" lengthAdjust="spacingAndGlyphs" stroke="#111" stroke-width="0.2">0.4</text>
<text transform="translate(33.1 335.25) scale(1 1.03)" font-family='"Liberation Sans", "DejaVu Sans", "Noto Sans CJK SC", sans-serif' font-size="8.4" fill="#111" text-anchor="end" font-weight="bold" textLength="11" lengthAdjust="spacingAndGlyphs" stroke="#111" stroke-width="0.2">0.5</text>
<text transform="translate(33.1 321.36) scale(1 1.03)" font-family='"Liberation Sans", "DejaVu Sans", "Noto Sans CJK SC", sans-serif' font-size="8.4" fill="#111" text-anchor="end" font-weight="bold" textLength="11" lengthAdjust="spacingAndGlyphs" stroke="#111" stroke-width="0.2">0.6</text>
<text transform="translate(33.1 307.47) scale(1 1.03)" font-family='"Liberation Sans", "DejaVu Sans", "Noto Sans CJK SC", sans-serif' font-size="8.4" fill="#111" text-anchor="end" font-weight="bold" textLength="11" lengthAdjust="spacingAndGlyphs" stroke="#111" stroke-width="0.2">0.7</text>
<text transform="translate(33.1 293.58) scale(1 1.03)" font-family='"Liberation Sans", "DejaVu Sans", "Noto Sans CJK SC", sans-serif' font-size="8.4" fill="#111" text-anchor="end" font-weight="bold" textLength="11" lengthAdjust="spacingAndGlyphs" stroke="#111" stroke-width="0.2">0.8</text>
<text transform="translate(33.1 279.69) scale(1 1.03)" font-family='"Liberation Sans", "DejaVu Sans", "Noto Sans CJK SC", sans-serif' font-size="8.4" fill="#111" text-anchor="end" font-weight="bold" textLength="11" lengthAdjust="spacingAndGlyphs" stroke="#111" stroke-width="0.2">0.9</text>
<text transform="translate(33.1 265.8) scale(1 1.03)" font-family='"Liberation Sans", "DejaVu Sans", "Noto Sans CJK SC", sans-serif' font-size="8.4" fill="#111" text-anchor="end" font-weight="bold" textLength="11" lengthAdjust="spacingAndGlyphs" stroke="#111" stroke-width="0.2">1.0</text>
<text transform="translate(33.1 251.91) scale(1 1.03)" font-family='"Liberation Sans", "DejaVu Sans", "Noto Sans CJK SC", sans-serif' font-size="8.4" fill="#111" text-anchor="end" font-weight="bold" textLength="11" lengthAdjust="spacingAndGlyphs" stroke="#111" stroke-width="0.2">1.1</text>
<text transform="translate(33.1 238.02) scale(1 1.03)" font-family='"Liberation Sans", "DejaVu Sans", "Noto Sans CJK SC", sans-serif' font-size="8.4" fill="#111" text-anchor="end" font-weight="bold" textLength="11" lengthAdjust="spacingAndGlyphs" stroke="#111" stroke-width="0.2">1.2</text>
<text transform="translate(38.3 413.7) scale(1 1.2)" font-family='"Liberation Sans", "DejaVu Sans", "Noto Sans CJK SC", sans-serif' font-size="8" fill="#111" text-anchor="middle" font-weight="bold" textLength="10.6" lengthAdjust="spacingAndGlyphs" stroke="#111" stroke-width="0.2">0.0</text>
<text transform="translate(64.22 413.7) scale(1 1.2)" font-family='"Liberation Sans", "DejaVu Sans", "Noto Sans CJK SC", sans-serif' font-size="8" fill="#111" text-anchor="middle" font-weight="bold" textLength="10.6" lengthAdjust="spacingAndGlyphs" stroke="#111" stroke-width="0.2">0.5</text>
<text transform="translate(90.15 413.7) scale(1 1.2)" font-family='"Liberation Sans", "DejaVu Sans", "Noto Sans CJK SC", sans-serif' font-size="8" fill="#111" text-anchor="middle" font-weight="bold" textLength="10.6" lengthAdjust="spacingAndGlyphs" stroke="#111" stroke-width="0.2">1.0</text>
<text transform="translate(116.08 413.7) scale(1 1.2)" font-family='"Liberation Sans", "DejaVu Sans", "Noto Sans CJK SC", sans-serif' font-size="8" fill="#111" text-anchor="middle" font-weight="bold" textLength="10.6" lengthAdjust="spacingAndGlyphs" stroke="#111" stroke-width="0.2">1.5</text>
<text transform="translate(142 413.7) scale(1 1.2)" font-family='"Liberation Sans", "DejaVu Sans", "Noto Sans CJK SC", sans-serif' font-size="8" fill="#111" text-anchor="middle" font-weight="bold" textLength="10.6" lengthAdjust="spacingAndGlyphs" stroke="#111" stroke-width="0.2">2.0</text>
<text transform="translate(167.93 413.7) scale(1 1.2)" font-family='"Liberation Sans", "DejaVu Sans", "Noto Sans CJK SC", sans-serif' font-size="8" fill="#111" text-anchor="middle" font-weight="bold" textLength="10.6" lengthAdjust="spacingAndGlyphs" stroke="#111" stroke-width="0.2">2.5</text>
<text transform="translate(193.85 413.7) scale(1 1.2)" font-family='"Liberation Sans", "DejaVu Sans", "Noto Sans CJK SC", sans-serif' font-size="8" fill="#111" text-anchor="middle" font-weight="bold" textLength="10.6" lengthAdjust="spacingAndGlyphs" stroke="#111" stroke-width="0.2">3.0</text>
<text transform="translate(219.77 413.7) scale(1 1.2)" font-family='"Liberation Sans", "DejaVu Sans", "Noto Sans CJK SC", sans-serif' font-size="8" fill="#111" text-anchor="middle" font-weight="bold" textLength="10.6" lengthAdjust="spacingAndGlyphs" stroke="#111" stroke-width="0.2">3.5</text>
<text transform="translate(245.7 413.7) scale(1 1.2)" font-family='"Liberation Sans", "DejaVu Sans", "Noto Sans CJK SC", sans-serif' font-size="8" fill="#111" text-anchor="middle" font-weight="bold" textLength="10.6" lengthAdjust="spacingAndGlyphs" stroke="#111" stroke-width="0.2">4.0</text>
<text transform="translate(142 424.2) scale(1 1.2)" font-family='"Liberation Sans", "DejaVu Sans", "Noto Sans CJK SC", sans-serif' font-size="8.4" fill="#111" text-anchor="middle" font-weight="bold" textLength="27.5" lengthAdjust="spacingAndGlyphs" stroke="#111" stroke-width="0.2">x (mm)</text>
<text transform="translate(18 318.76) rotate(-90)" x="-27.4" font-family='"Liberation Sans", "DejaVu Sans", "Noto Sans CJK SC", sans-serif' font-weight="bold" font-size="8.7" fill="#111" stroke="#111" stroke-width="0.2" textLength="54.8" lengthAdjust="spacingAndGlyphs">Area Fraction</text>
<polygon points="63.9,283.1 85.1,283.1 105.8,253.3 84.6,253.3" fill="url(#gTop)"/>
<polygon points="85.1,283.1 105.8,253.3 105.8,266.1 85.1,295.9" fill="url(#gSide)"/>
<rect x="63.9" y="283.1" width="21.2" height="12.8" fill="url(#gFront)"/>
<line x1="72.7" y1="283.1" x2="93.4" y2="253.3" stroke="#111" stroke-width="1.35"/>
<line x1="71.8" y1="283.1" x2="92.5" y2="253.3" stroke="#c99" stroke-width="0.5" opacity="0.8"/>
<line x1="72.7" y1="283.1" x2="72.7" y2="301.1" stroke="#c88" stroke-width="0.6"/>
<polygon points="73.2,295.9 75.7,295.9 73.2,301.6" fill="#111"/>
<line x1="84.6" y1="253.3" x2="84.6" y2="237.1" stroke="#1aa04a" stroke-width="1.2"/>
<polygon points="83,237.6 86.2,237.6 84.6,233.6" fill="#1aa04a"/>
<line x1="105.8" y1="265.5" x2="113.8" y2="265.5" stroke="#e02020" stroke-width="1.2"/>
<polygon points="113.3,263.9 113.3,267.1 116.8,265.5" fill="#e02020"/>
<line x1="64.7" y1="294.4" x2="59.4" y2="301.4" stroke="#2030c0" stroke-width="1.1"/>
<text x="84.6" y="231.6" text-anchor="middle" font-family='"Liberation Sans", "DejaVu Sans", "Noto Sans CJK SC", sans-serif' font-size="9" fill="#333">y</text>
<text x="119.4" y="268.1" text-anchor="middle" font-family='"Liberation Sans", "DejaVu Sans", "Noto Sans CJK SC", sans-serif' font-size="9" fill="#333">x</text>
<text x="57.6" y="305.5" text-anchor="middle" font-family='"Liberation Sans", "DejaVu Sans", "Noto Sans CJK SC", sans-serif' font-size="9" fill="#333">z</text>
<text x="94.6" y="249.1" text-anchor="middle" font-family='"Liberation Sans", "DejaVu Sans", "Noto Sans CJK SC", sans-serif' font-size="9.4" fill="#222" stroke="#222" stroke-width="0.25">A</text>
<text x="70.3" y="280.3" text-anchor="middle" font-family='"Liberation Sans", "DejaVu Sans", "Noto Sans CJK SC", sans-serif' font-size="9.4" fill="#222" stroke="#222" stroke-width="0.25">A</text>
<clipPath id="mc13"><rect x="136.8" y="250.5" width="80.4" height="45.4"/></clipPath>
<rect x="136.8" y="250.5" width="80.4" height="45.4" fill="#676767"/>
<g clip-path="url(#mc13)">
<rect x="136.8" y="250.5" width="80.4" height="45.4" filter="url(#noise)" opacity="0.38"/>
<g fill="#3a3a3a" opacity="0.45" filter="url(#soft)"><ellipse cx="150.19" cy="251.19" rx="6.03" ry="1.36"/><ellipse cx="147.76" cy="259.8" rx="6.42" ry="1.27"/><ellipse cx="144.04" cy="265.14" rx="5.32" ry="1.59"/><ellipse cx="146.76" cy="271.5" rx="6.02" ry="1.5"/><ellipse cx="147" cy="277.87" rx="5.77" ry="1.78"/><ellipse cx="146.71" cy="284.62" rx="5.24" ry="1.27"/><ellipse cx="143.27" cy="290.27" rx="6.14" ry="1.32"/><ellipse cx="167.89" cy="252.08" rx="4.79" ry="1.65"/><ellipse cx="170.54" cy="258.1" rx="5.86" ry="1.72"/><ellipse cx="167.48" cy="265" rx="4.76" ry="1.63"/><ellipse cx="167.2" cy="271.84" rx="4.65" ry="1.55"/><ellipse cx="168.1" cy="277.75" rx="5.16" ry="1.37"/><ellipse cx="167.66" cy="284.54" rx="6.29" ry="1.58"/><ellipse cx="167.78" cy="291.46" rx="5.55" ry="1.78"/><ellipse cx="185.95" cy="253.57" rx="5.65" ry="1.26"/><ellipse cx="187.87" cy="259.56" rx="5.94" ry="1.24"/><ellipse cx="186.05" cy="266.85" rx="5.4" ry="1.57"/><ellipse cx="186.6" cy="272.59" rx="4.54" ry="1.37"/><ellipse cx="185.2" cy="277.95" rx="4.19" ry="1.73"/><ellipse cx="190.13" cy="284.48" rx="5.98" ry="1.63"/><ellipse cx="192.58" cy="290.73" rx="6.37" ry="1.4"/><ellipse cx="208.26" cy="252.87" rx="5.35" ry="1.51"/><ellipse cx="204.48" cy="259.67" rx="5.32" ry="1.77"/><ellipse cx="207.71" cy="264.36" rx="4.64" ry="1.63"/><ellipse cx="206.4" cy="271.69" rx="4.97" ry="1.71"/><ellipse cx="205.47" cy="278.22" rx="4.51" ry="1.54"/><ellipse cx="209.68" cy="284.98" rx="4.26" ry="1.5"/><ellipse cx="203.77" cy="291.82" rx="4.06" ry="1.66"/></g>
<path d="M150.13 249.93 h2.87 v1.79 h-2.87Z M146.8 250.16 h1.62 v1.35 h-1.62Z M152.88 250.48 h2.28 v1.09 h-2.28Z M153.04 249.74 h1.87 v1.62 h-1.87Z M154.66 251 h2.61 v1.79 h-2.61Z M147.24 259.71 h2.33 v1.44 h-2.33Z M141.2 258.53 h1.61 v1.77 h-1.61Z M148.51 258.87 h2.6 v1.38 h-2.6Z M141.64 258.56 h2.62 v1.6 h-2.62Z M146.97 258.95 h2.92 v1.7 h-2.92Z M142.32 264.41 h2.13 v1.32 h-2.13Z M147.53 264.57 h2.89 v1.73 h-2.89Z M143.76 264.39 h2.69 v1.13 h-2.69Z M141.06 264.19 h2.14 v1.37 h-2.14Z M140.92 264.47 h2.04 v1.66 h-2.04Z M146.39 264.08 h2.33 v1.28 h-2.33Z M150.44 270.72 h2.67 v1.58 h-2.67Z M148.35 271.05 h2.53 v1.67 h-2.53Z M143.19 270.72 h2.22 v1.43 h-2.22Z M145.45 270.73 h1.77 v1.63 h-1.77Z M144.06 271.22 h2.97 v1.52 h-2.97Z M143.88 276.68 h2.04 v1.38 h-2.04Z M150.66 277.05 h1.76 v1.43 h-1.76Z M143.22 276.85 h2.01 v1.76 h-2.01Z M145.08 276.56 h2.38 v1.33 h-2.38Z M151.21 277.45 h2.62 v1.21 h-2.62Z M140.62 277.41 h2.63 v1.73 h-2.63Z M143.21 283.71 h1.94 v1.74 h-1.94Z M146.2 284 h1.67 v1.72 h-1.67Z M141.6 283.66 h1.67 v1.6 h-1.67Z M150.04 284.16 h2.46 v1.52 h-2.46Z M145.72 284.04 h2.54 v1.34 h-2.54Z M150.01 283.69 h2.45 v1.09 h-2.45Z M143.4 284.03 h2.81 v1.34 h-2.81Z M141.5 288.9 h2.92 v1.65 h-2.92Z M138.1 289.62 h1.89 v1.34 h-1.89Z M137.86 289.83 h2.52 v1.59 h-2.52Z M146.19 289.81 h1.98 v1.43 h-1.98Z M145 288.61 h2.37 v1.65 h-2.37Z M147.78 289.71 h1.91 v1.1 h-1.91Z M171.24 250.89 h2.74 v1.04 h-2.74Z M168.29 251.14 h1.87 v1.21 h-1.87Z M165.94 251.13 h1.74 v1.35 h-1.74Z M162.91 250.62 h2.08 v1.39 h-2.08Z M167.67 251.33 h1.77 v1.18 h-1.77Z M164.37 251.81 h2.56 v1.16 h-2.56Z M167.18 251.54 h1.8 v1.18 h-1.8Z M171.8 257.89 h2.79 v1.02 h-2.79Z M171.7 257.46 h2.27 v1.31 h-2.27Z M169.17 257.61 h1.64 v1.04 h-1.64Z M174.62 257.25 h2.12 v1.12 h-2.12Z M169.16 257.68 h2.84 v1.31 h-2.84Z M170.94 264.49 h1.89 v1.31 h-1.89Z M169.43 264.5 h2.15 v1.67 h-2.15Z M163.04 264.96 h1.64 v1.41 h-1.64Z M163.6 264.98 h2.24 v1.42 h-2.24Z M165.08 263.96 h2.73 v1.69 h-2.73Z M166.59 263.98 h3 v1.1 h-3Z M165.65 271.8 h2.45 v1.1 h-2.45Z M163.74 270.84 h1.54 v1.55 h-1.54Z M166.45 271.64 h2.13 v1.38 h-2.13Z M162.41 270.94 h2.13 v1.53 h-2.13Z M162.24 270.98 h2.54 v1.2 h-2.54Z M161.52 277.8 h2.94 v1.07 h-2.94Z M171.31 277.11 h2.72 v1.69 h-2.72Z M163.32 277.29 h2.94 v1.63 h-2.94Z M168.89 277.45 h2.6 v1.03 h-2.6Z M164.57 276.18 h2.2 v1.03 h-2.2Z M171.77 276.62 h2.66 v1.42 h-2.66Z M163.46 277.02 h1.51 v1.24 h-1.51Z M171.8 283.94 h1.68 v1.22 h-1.68Z M166.53 284.04 h1.87 v1.37 h-1.87Z M165.96 283.74 h3 v1.51 h-3Z M161.38 283.72 h1.95 v1.75 h-1.95Z M161.12 284.06 h2.11 v1.2 h-2.11Z M168.12 284.05 h2.66 v1.17 h-2.66Z M162.87 284.19 h1.83 v1.17 h-1.83Z M162.19 290.74 h2.08 v1.14 h-2.08Z M163.98 290.42 h1.92 v1.38 h-1.92Z M162.33 290.36 h2.14 v1.43 h-2.14Z M164.36 290.73 h2.78 v1.39 h-2.78Z M161.24 291.16 h2 v1.11 h-2Z M189.12 252.97 h2.86 v1.67 h-2.86Z M179.46 252.75 h2.52 v1.46 h-2.52Z M179.1 252.75 h2.46 v1.69 h-2.46Z M183.44 252.89 h2.6 v1.29 h-2.6Z M183.22 252.71 h1.56 v1.02 h-1.56Z M189.97 252.01 h2.7 v1.39 h-2.7Z M183.92 253.13 h1.55 v1.64 h-1.55Z M182.24 253.57 h1.87 v1.34 h-1.87Z M187.73 258.84 h1.77 v1.52 h-1.77Z M189.28 258.66 h2.37 v1.44 h-2.37Z M185.95 258.52 h2.27 v1.23 h-2.27Z M191.17 258.6 h1.65 v1.5 h-1.65Z M191.34 259.54 h1.54 v1.26 h-1.54Z M184.2 258.61 h1.92 v1.34 h-1.92Z M183.51 258.67 h2.11 v1.32 h-2.11Z M182.03 258.94 h2.43 v1.44 h-2.43Z M182.42 266.53 h1.97 v1.02 h-1.97Z M184.57 265.3 h2.13 v1.45 h-2.13Z M189.49 266.16 h1.78 v1.01 h-1.78Z M183.31 266.37 h2.36 v1.27 h-2.36Z M180.31 265.7 h2.63 v1.73 h-2.63Z M183.26 266.4 h2.46 v1.7 h-2.46Z M188.26 272.49 h1.68 v1.5 h-1.68Z M186.77 271.59 h2.6 v1.06 h-2.6Z M186.93 272.2 h2.78 v1.43 h-2.78Z M188.81 271.77 h1.8 v1.67 h-1.8Z M181.54 271.43 h2.67 v1.68 h-2.67Z M182.11 272.21 h2.44 v1.18 h-2.44Z M183.73 272.2 h2.03 v1.65 h-2.03Z M184.82 277.36 h2.74 v1.52 h-2.74Z M180.94 277.27 h2.51 v1.66 h-2.51Z M183.63 278.41 h2.7 v1.26 h-2.7Z M181.39 276.98 h1.81 v1.28 h-1.81Z M181.9 277.4 h2.03 v1.56 h-2.03Z M184.86 277.27 h2.48 v1.6 h-2.48Z M186.22 284.19 h2.45 v1.12 h-2.45Z M186.81 284.11 h2.84 v1.63 h-2.84Z M185.81 283.77 h2.62 v1.42 h-2.62Z M184.05 283.64 h2.57 v1.02 h-2.57Z M193.22 284.23 h2.38 v1.54 h-2.38Z M193.83 283.18 h1.88 v1.32 h-1.88Z M193.44 283.66 h2.32 v1.44 h-2.32Z M188.17 290.17 h2.52 v1.53 h-2.52Z M191.46 290.15 h1.66 v1.33 h-1.66Z M195.36 290.28 h2.32 v1.55 h-2.32Z M185.16 288.75 h2.27 v1.68 h-2.27Z M186.97 290.17 h2.96 v1.25 h-2.96Z M204.33 252.2 h2.58 v1.4 h-2.58Z M205.55 252.48 h1.64 v1 h-1.64Z M211.57 252.12 h2.59 v1.53 h-2.59Z M204.6 252.36 h2.47 v1.4 h-2.47Z M208.81 252.46 h2.21 v1.51 h-2.21Z M203.29 259.02 h2.51 v1.3 h-2.51Z M204.19 259.18 h2.41 v1.64 h-2.41Z M198.01 258.52 h2.37 v1.15 h-2.37Z M203.88 259.92 h2.2 v1.07 h-2.2Z M205.79 259.27 h2 v1.13 h-2Z M200.32 258.97 h2.99 v1.65 h-2.99Z M206.22 258.59 h1.88 v1.74 h-1.88Z M207.48 259.29 h2.39 v1.54 h-2.39Z M208.61 263.71 h2.3 v1.71 h-2.3Z M202.95 263.7 h2.59 v1.15 h-2.59Z M207.19 263.88 h2.24 v1.33 h-2.24Z M202.15 263.2 h2.18 v1.41 h-2.18Z M204.73 263.85 h2.62 v1.09 h-2.62Z M210.34 263.18 h2.41 v1.74 h-2.41Z M208.14 263.99 h2.63 v1.26 h-2.63Z M204.84 270.84 h2.11 v1.65 h-2.11Z M208.96 270.97 h2.56 v1.71 h-2.56Z M209.98 271.07 h1.55 v1.52 h-1.55Z M200.78 270.72 h2.25 v1.49 h-2.25Z M201.07 270.78 h2.61 v1.74 h-2.61Z M202.76 277.54 h2.98 v1.76 h-2.98Z M205.22 278.11 h1.82 v1.13 h-1.82Z M202.57 277.33 h2.09 v1.36 h-2.09Z M207.06 277.71 h2.28 v1.38 h-2.28Z M202.39 277.12 h1.75 v1.09 h-1.75Z M209.94 284.21 h2.13 v1.66 h-2.13Z M211.26 283.91 h2.91 v1.19 h-2.91Z M211.76 284.37 h2.91 v1.27 h-2.91Z M211.31 284.72 h2.55 v1.6 h-2.55Z M211.38 284.49 h2.15 v1 h-2.15Z M210.74 284.11 h1.67 v1.56 h-1.67Z M207.58 284.11 h2.18 v1.64 h-2.18Z M210.2 284.58 h2.82 v1 h-2.82Z M203.02 291.64 h2.47 v1.68 h-2.47Z M204.37 290.36 h2.83 v1.45 h-2.83Z M200.13 291.29 h2.73 v1.25 h-2.73Z M202.29 291.34 h1.58 v1.28 h-1.58Z M205.44 290.21 h2.32 v1.54 h-2.32Z" fill="#222" opacity="0.8"/>
</g>
<line x1="136.8" y1="250.8" x2="217.2" y2="250.8" stroke="#9a8a70" stroke-width="0.7"/>
<line x1="136.3" y1="295.9" x2="136.3" y2="238.6" stroke="#22c060" stroke-width="1.2"/>
<polygon points="134.8,239.1 137.8,239.1 136.3,235.6" fill="#22c060"/>
<line x1="136.3" y1="296.1" x2="224.1" y2="296.1" stroke="#f03040" stroke-width="1.2"/>
<polygon points="223.6,294.6 223.6,297.6 227.1,296.1" fill="#f03040"/>
<text x="135.6" y="231.3" font-family='"Liberation Sans", "DejaVu Sans", "Noto Sans CJK SC", sans-serif' font-size="9.5" fill="#333" text-anchor="middle">y</text>
<text x="230.2" y="299.1" font-family='"Liberation Sans", "DejaVu Sans", "Noto Sans CJK SC", sans-serif' font-size="9.5" fill="#333" text-anchor="middle">x</text>
<rect x="54.4" y="306.3" width="46.9" height="34.2" fill="#fff" stroke="#6a6a6a" stroke-width="1"/>
<line x1="56" y1="312.3" x2="74.9" y2="312.3" stroke="#505050" stroke-width="1.4"/>
<text transform="translate(77.8 315.4) scale(1 1.08)" font-family='"Liberation Sans", "DejaVu Sans", "Noto Sans CJK SC", sans-serif' font-size="8.3" fill="#333" textLength="15.8" lengthAdjust="spacingAndGlyphs">50%</text>
<line x1="56" y1="322.8" x2="74.9" y2="322.8" stroke="#f4485a" stroke-width="1.4"/>
<text transform="translate(77.8 325.9) scale(1 1.08)" font-family='"Liberation Sans", "DejaVu Sans", "Noto Sans CJK SC", sans-serif' font-size="8.3" fill="#333" textLength="15.8" lengthAdjust="spacingAndGlyphs">75%</text>
<line x1="56" y1="333.6" x2="74.9" y2="333.6" stroke="#1b70e4" stroke-width="1.4"/>
<text transform="translate(77.8 336.7) scale(1 1.08)" font-family='"Liberation Sans", "DejaVu Sans", "Noto Sans CJK SC", sans-serif' font-size="8.3" fill="#333" textLength="20.3" lengthAdjust="spacingAndGlyphs">100%</text>
<rect x="144.5" y="306.5" width="57.2" height="35.4" fill="#fff" stroke="#6a6a6a" stroke-width="1"/>
<text transform="translate(145 314.8) scale(1 1.1)" font-family='"Liberation Sans", "DejaVu Sans", "Noto Sans CJK SC", sans-serif' fill="#333" textLength="55.5" lengthAdjust="spacingAndGlyphs"><tspan font-size="8.2" y="0">SVF</tspan><tspan font-size="5.6" y="2">(50%)</tspan><tspan font-size="8.2" y="0">:25.352</tspan></text>
<text transform="translate(145 326.2) scale(1 1.1)" font-family='"Liberation Sans", "DejaVu Sans", "Noto Sans CJK SC", sans-serif' fill="#333" textLength="55.5" lengthAdjust="spacingAndGlyphs"><tspan font-size="8.2" y="0">SVF</tspan><tspan font-size="5.6" y="2">(75%)</tspan><tspan font-size="8.2" y="0">:12.482</tspan></text>
<text transform="translate(145 337.4) scale(1 1.1)" font-family='"Liberation Sans", "DejaVu Sans", "Noto Sans CJK SC", sans-serif' fill="#333" textLength="55.5" lengthAdjust="spacingAndGlyphs"><tspan font-size="8.2" y="0">SVF</tspan><tspan font-size="5.6" y="2">(100%)</tspan><tspan font-size="8.2" y="0">:7.077</tspan></text>
<path d="M38.3 375.4 L39.34 376.94 L40.37 377.91 L41.41 379.42 L42.44 381.76 L43.48 383.72 L44.52 384.68 L45.55 383.86 L46.59 382.09 L47.62 380.23 L48.66 378.55 L49.7 376.67 L50.73 374.03 L51.77 371.79 L52.8 370.09 L53.84 367.64 L54.88 364.67 L55.91 362.28 L56.95 360.76 L57.98 358.62 L59.02 356.07 L60.06 354.99 L61.09 354.14 L62.13 352.29 L63.16 350.91 L64.2 350.39 L65.24 350.05 L66.27 350.69 L67.31 351.35 L68.34 351.35 L69.38 353.05 L70.42 355.15 L71.45 355.17 L72.49 355.73 L73.52 357.45 L74.56 358.33 L75.6 360.06 L76.63 363.77 L77.67 366.88 L78.7 367.63 L79.74 368.12 L80.78 370.54 L81.81 373.24 L82.85 374.64 L83.88 375.56 L84.92 376.8 L85.96 378.72 L86.99 382.04 L88.03 385.31 L89.06 386.27 L90.1 386.2 L91.14 386 L92.17 386.2 L93.21 385.32 L94.24 383.61 L95.28 383.1 L96.32 381.62 L97.35 378.95 L98.39 377.09 L99.42 368.72 L100.46 353.91 L101.5 347.73 L102.53 342.62 L103.57 339.64 L104.6 339.37 L105.64 341.93 L106.68 345.34 L107.71 347.48 L108.75 349.09 L109.78 350.49 L110.82 351.29 L111.86 352.26 L112.89 352.09 L113.93 351.71 L114.96 352.61 L116 352.93 L117.04 353.18 L118.07 355.1 L119.11 358.1 L120.14 359.59 L121.18 359.45 L122.22 360.5 L123.25 362.65 L124.29 364.3 L125.32 365.4 L126.36 367.24 L127.4 369.86 L128.43 371.84 L129.47 373.27 L130.5 375 L131.54 377.24 L132.58 379.41 L133.61 380.7 L134.65 382.24 L135.68 384.82 L136.72 386.72 L137.76 388.48 L138.79 390.62 L139.83 391.75 L140.86 389.61 L141.9 385.1 L142.94 380.35 L143.97 375.28 L145.01 369.91 L146.04 365.38 L147.08 365.61 L148.12 366.75 L149.15 367.02 L150.19 367.59 L151.22 367.02 L152.26 364.19 L153.3 361.07 L154.33 360.49 L155.37 361.13 L156.4 361.48 L157.44 362.3 L158.48 362.23 L159.51 360.67 L160.55 359.94 L161.58 360.53 L162.62 360.37 L163.66 359.84 L164.69 360.09 L165.73 359.64 L166.76 358.64 L167.8 358.05 L168.84 358.15 L169.87 358.29 L170.91 358.52 L171.94 359.35 L172.98 360.19 L174.02 361.88 L175.05 365.01 L176.09 368.16 L177.12 369.35 L178.16 369.81 L179.2 370.45 L180.23 370.5 L181.27 370.65 L182.3 371.61 L183.34 371.9 L184.38 371.19 L185.41 371.75 L186.45 373.09 L187.48 372.78 L188.52 372.19 L189.56 372.36 L190.59 371.34 L191.63 368.99 L192.66 365.88 L193.7 363.8 L194.74 363.23 L195.77 363.84 L196.81 365.54 L197.84 365.66 L198.88 365.12 L199.92 365.6 L200.95 365.65 L201.99 365.38 L203.02 363.97 L204.06 362.37 L205.1 362.73 L206.13 362.46 L207.17 361.16 L208.2 361.14 L209.24 360.88 L210.28 360.27 L211.31 359.95 L212.35 358.82 L213.38 358.72 L214.42 360.4 L215.46 362.44 L216.49 363.85 L217.53 365.58 L218.56 367.53 L219.6 367.36 L220.64 367.43 L221.67 368.57 L222.71 368.71 L223.74 369.29 L224.78 371.43 L225.82 373.39 L226.85 374.42 L227.89 375.91 L228.92 377.55 L229.96 378.33 L231 378.87 L232.03 379.85 L233.07 380.67 L234.1 380.62 L235.14 380.72 L236.18 381.51 L237.21 383.32 L238.25 389.41 L239.28 393.3 L240.32 393.85 L241.36 393.18" fill="none" stroke="#3a3a3a" stroke-width="1.25" stroke-linejoin="round"/>
<path d="M38.3 400.4 L39.34 399.59 L40.37 398.87 L41.41 397.72 L42.44 396.81 L43.48 396.42 L44.52 395.76 L45.55 395.09 L46.59 394.72 L47.62 394.46 L48.66 393.7 L49.7 392.36 L50.73 391.04 L51.77 389.48 L52.8 388.09 L53.84 386.97 L54.88 385.58 L55.91 384.41 L56.95 383.74 L57.98 383.12 L59.02 382.77 L60.06 382.68 L61.09 382.19 L62.13 381.46 L63.16 381.55 L64.2 381.99 L65.24 382.48 L66.27 383.34 L67.31 384.25 L68.34 385.12 L69.38 385.92 L70.42 387.08 L71.45 388.2 L72.49 388.86 L73.52 389.44 L74.56 389.93 L75.6 390.58 L76.63 391.35 L77.67 392.1 L78.7 392.66 L79.74 392.63 L80.78 392.04 L81.81 391.34 L82.85 390.63 L83.88 389.82 L84.92 388.87 L85.96 388.14 L86.99 389.21 L88.03 392.72 L89.06 396.49 L90.1 398.74 L91.14 399.45 L92.17 400.05 L93.21 400.1 L94.24 399.38 L95.28 397.98 L96.32 396.47 L97.35 395.18 L98.39 393.65 L99.42 391.9 L100.46 389.62 L101.5 386.97 L102.53 383.94 L103.57 380.62 L104.6 378.61 L105.64 377.86 L106.68 376.88 L107.71 375.72 L108.75 374.63 L109.78 373.89 L110.82 373.54 L111.86 373.74 L112.89 374.45 L113.93 375.12 L114.96 375.62 L116 376.01 L117.04 376.76 L118.07 377.91 L119.11 378.62 L120.14 379.16 L121.18 380.31 L122.22 381.7 L123.25 382.71 L124.29 383.89 L125.32 385.12 L126.36 386.36 L127.4 388.19 L128.43 389.76 L129.47 391.14 L130.5 393.22 L131.54 395.3 L132.58 396.84 L133.61 398.03 L134.65 398.74 L135.68 399.3 L136.72 399.78 L137.76 398.17 L138.79 394.78 L139.83 391.3 L140.86 388.39 L141.9 386.44 L142.94 384.71 L143.97 382.84 L145.01 381.39 L146.04 380.32 L147.08 379.18 L148.12 378.48 L149.15 378.17 L150.19 377.69 L151.22 377.04 L152.26 376.25 L153.3 375.46 L154.33 375.42 L155.37 375.49 L156.4 375.24 L157.44 375.11 L158.48 374.81 L159.51 374.73 L160.55 374.34 L161.58 373.7 L162.62 373.66 L163.66 373.36 L164.69 372.77 L165.73 372.67 L166.76 372.04 L167.8 371.02 L168.84 370.7 L169.87 370.41 L170.91 370.31 L171.94 371.2 L172.98 372.47 L174.02 373.8 L175.05 375.24 L176.09 377.02 L177.12 379.34 L178.16 381.86 L179.2 384.32 L180.23 386.77 L181.27 389.22 L182.3 391.42 L183.34 393.01 L184.38 394.32 L185.41 395.53 L186.45 395.94 L187.48 395.22 L188.52 394.1 L189.56 393.25 L190.59 392.38 L191.63 391.35 L192.66 390.6 L193.7 389.88 L194.74 388.65 L195.77 387.31 L196.81 385.76 L197.84 383.98 L198.88 382.6 L199.92 381.86 L200.95 381.22 L201.99 380.11 L203.02 378.96 L204.06 378.09 L205.1 376.98 L206.13 375.75 L207.17 375 L208.2 374.55 L209.24 373.81 L210.28 373.01 L211.31 372.82 L212.35 372.52 L213.38 371.26 L214.42 369.99 L215.46 369.13 L216.49 368.64 L217.53 368.5 L218.56 369.06 L219.6 370.97 L220.64 373.6 L221.67 375.83 L222.71 378.2 L223.74 381.33 L224.78 384.7 L225.82 387 L226.85 388.87 L227.89 392.01 L228.92 394.96 L229.96 396.88 L231 397.89 L232.03 398.72 L233.07 399.61 L234.1 400.44 L235.14 401.01 L236.18 400.95" fill="none" stroke="#f4485a" stroke-width="1.25" stroke-linejoin="round"/>
<path d="M38.3 401.45 L39.34 401.49 L40.37 401.24 L41.41 400.93 L42.44 400.73 L43.48 400.43 L44.52 399.96 L45.55 399.54 L46.59 398.6 L47.62 397.17 L48.66 395.36 L49.7 393.41 L50.73 391.72 L51.77 390.4 L52.8 389.41 L53.84 388.23 L54.88 387.08 L55.91 386.26 L56.95 385.11 L57.98 384.05 L59.02 383.57 L60.06 383.02 L61.09 382.09 L62.13 381.16 L63.16 380.8 L64.2 380.6 L65.24 379.75 L66.27 378.86 L67.31 378.74 L68.34 379.67 L69.38 381.31 L70.42 382.73 L71.45 383.52 L72.49 384.47 L73.52 385.43 L74.56 386.28 L75.6 387.51 L76.63 388.69 L77.67 389.75 L78.7 391.02 L79.74 392.26 L80.78 393.1 L81.81 393.67 L82.85 394.61 L83.88 395.61 L84.92 396.31 L85.96 397.39 L86.99 398.4 L88.03 398.89 L89.06 399.74 L90.1 400.57 L91.14 400.82 L92.17 400.99 L93.21 400.88 L94.24 400.73 L95.28 400.84 L96.32 400.36 L97.35 399.37 L98.39 398.6 L99.42 397.99 L100.46 397.2 L101.5 396.01 L102.53 394.49 L103.57 393.32 L104.6 392.61 L105.64 391.44 L106.68 389.7 L107.71 388.4 L108.75 387.55 L109.78 386.63 L110.82 386.04 L111.86 385.88 L112.89 385.47 L113.93 384.98 L114.96 385.01 L116 385.07 L117.04 384.9 L118.07 384.99 L119.11 385.33 L120.14 385.92 L121.18 386.42 L122.22 386.8 L123.25 387.52 L124.29 388.43 L125.32 388.91 L126.36 389.06 L127.4 390.11 L128.43 392.1 L129.47 393.6 L130.5 394.84 L131.54 396.41 L132.58 397.66 L133.61 398.5 L134.65 399.27 L135.68 400.05 L136.72 400.61 L137.76 400.82 L138.79 400.57 L139.83 400.21 L140.86 400.33 L141.9 400.54 L142.94 400.41 L143.97 400.56 L145.01 400.75 L146.04 400.24 L147.08 399.74 L148.12 399.47 L149.15 398.49 L150.19 397.13 L151.22 395.66 L152.26 393.71 L153.3 391.55 L154.33 390.16 L155.37 389.25 L156.4 388.57 L157.44 387.58 L158.48 386.23 L159.51 385.15 L160.55 384.23 L161.58 383.43 L162.62 382.77 L163.66 382.6 L164.69 382.23 L165.73 381.25 L166.76 380.72 L167.8 380.44 L168.84 380.49 L169.87 381.7 L170.91 383.36 L171.94 385.03 L172.98 386.78 L174.02 388.31 L175.05 389.89 L176.09 391.62 L177.12 393.52 L178.16 395.36 L179.2 396.6 L180.23 397.44 L181.27 398.3 L182.3 399.19 L183.34 399.98 L184.38 400.35 L185.41 400.68 L186.45 401.27 L187.48 401.47 L188.52 401.09 L189.56 400.47 L190.59 400.08 L191.63 399.78 L192.66 399.31 L193.7 398.8 L194.74 397.53 L195.77 395.9 L196.81 394.57 L197.84 393.3 L198.88 391.68 L199.92 390.05 L200.95 388.76 L201.99 387.51 L203.02 386.47 L204.06 385.95 L205.1 385.37 L206.13 384.06 L207.17 382.97 L208.2 382.57 L209.24 382.14 L210.28 381.42 L211.31 381.05 L212.35 381.66 L213.38 382.62 L214.42 383.38 L215.46 383.65 L216.49 383.99 L217.53 385.31 L218.56 386.64 L219.6 387.2 L220.64 387.99 L221.67 389.39 L222.71 391.1 L223.74 392.5 L224.78 393.63 L225.82 395.14 L226.85 396.48 L227.89 397.57 L228.92 398.52 L229.96 399.13 L231 399.45 L232.03 399.94 L233.07 400.7 L234.1 401.04 L235.14 400.74 L236.18 400.55 L237.21 400.75" fill="none" stroke="#1b70e4" stroke-width="1.25" stroke-linejoin="round"/>
<text x="261.2" y="234.7" font-family='"Liberation Sans", "DejaVu Sans", "Noto Sans CJK SC", sans-serif' font-size="12" font-weight="bold" fill="#111">c</text>
<path d="M311.5 234.88 V401.8 H519.1" fill="none" stroke="#111" stroke-width="1.45"/>
<path d="M311.5 401.8 h-3.5 M311.5 387.89 h-1.8 M311.5 373.98 h-3.5 M311.5 360.07 h-1.8 M311.5 346.16 h-3.5 M311.5 332.25 h-1.8 M311.5 318.34 h-3.5 M311.5 304.43 h-1.8 M311.5 290.52 h-3.5 M311.5 276.61 h-1.8 M311.5 262.7 h-3.5 M311.5 248.79 h-1.8 M311.5 234.88 h-3.5 M311.5 401.8 v3.2 M324.48 401.8 v1.8 M337.45 401.8 v3.2 M350.43 401.8 v1.8 M363.4 401.8 v3.2 M376.38 401.8 v1.8 M389.35 401.8 v3.2 M402.33 401.8 v1.8 M415.3 401.8 v3.2 M428.28 401.8 v1.8 M441.25 401.8 v3.2 M454.23 401.8 v1.8 M467.2 401.8 v3.2 M480.18 401.8 v1.8 M493.15 401.8 v3.2 M506.12 401.8 v1.8 M519.1 401.8 v3.2" stroke="#111" stroke-width="1.15"/>
<text transform="translate(306.3 404.9) scale(1 1.03)" font-family='"Liberation Sans", "DejaVu Sans", "Noto Sans CJK SC", sans-serif' font-size="8.4" fill="#111" text-anchor="end" font-weight="bold" textLength="11" lengthAdjust="spacingAndGlyphs" stroke="#111" stroke-width="0.2">0.0</text>
<text transform="translate(306.3 377.08) scale(1 1.03)" font-family='"Liberation Sans", "DejaVu Sans", "Noto Sans CJK SC", sans-serif' font-size="8.4" fill="#111" text-anchor="end" font-weight="bold" textLength="11" lengthAdjust="spacingAndGlyphs" stroke="#111" stroke-width="0.2">0.1</text>
<text transform="translate(306.3 349.26) scale(1 1.03)" font-family='"Liberation Sans", "DejaVu Sans", "Noto Sans CJK SC", sans-serif' font-size="8.4" fill="#111" text-anchor="end" font-weight="bold" textLength="11" lengthAdjust="spacingAndGlyphs" stroke="#111" stroke-width="0.2">0.2</text>
<text transform="translate(306.3 321.44) scale(1 1.03)" font-family='"Liberation Sans", "DejaVu Sans", "Noto Sans CJK SC", sans-serif' font-size="8.4" fill="#111" text-anchor="end" font-weight="bold" textLength="11" lengthAdjust="spacingAndGlyphs" stroke="#111" stroke-width="0.2">0.3</text>
<text transform="translate(306.3 293.62) scale(1 1.03)" font-family='"Liberation Sans", "DejaVu Sans", "Noto Sans CJK SC", sans-serif' font-size="8.4" fill="#111" text-anchor="end" font-weight="bold" textLength="11" lengthAdjust="spacingAndGlyphs" stroke="#111" stroke-width="0.2">0.4</text>
<text transform="translate(306.3 265.8) scale(1 1.03)" font-family='"Liberation Sans", "DejaVu Sans", "Noto Sans CJK SC", sans-serif' font-size="8.4" fill="#111" text-anchor="end" font-weight="bold" textLength="11" lengthAdjust="spacingAndGlyphs" stroke="#111" stroke-width="0.2">0.5</text>
<text transform="translate(306.3 237.98) scale(1 1.03)" font-family='"Liberation Sans", "DejaVu Sans", "Noto Sans CJK SC", sans-serif' font-size="8.4" fill="#111" text-anchor="end" font-weight="bold" textLength="11" lengthAdjust="spacingAndGlyphs" stroke="#111" stroke-width="0.2">0.6</text>
<text transform="translate(311.5 413.9) scale(1 1.2)" font-family='"Liberation Sans", "DejaVu Sans", "Noto Sans CJK SC", sans-serif' font-size="8" fill="#111" text-anchor="middle" font-weight="bold" textLength="10.6" lengthAdjust="spacingAndGlyphs" stroke="#111" stroke-width="0.2">0.0</text>
<text transform="translate(337.45 413.9) scale(1 1.2)" font-family='"Liberation Sans", "DejaVu Sans", "Noto Sans CJK SC", sans-serif' font-size="8" fill="#111" text-anchor="middle" font-weight="bold" textLength="10.6" lengthAdjust="spacingAndGlyphs" stroke="#111" stroke-width="0.2">0.5</text>
<text transform="translate(363.4 413.9) scale(1 1.2)" font-family='"Liberation Sans", "DejaVu Sans", "Noto Sans CJK SC", sans-serif' font-size="8" fill="#111" text-anchor="middle" font-weight="bold" textLength="10.6" lengthAdjust="spacingAndGlyphs" stroke="#111" stroke-width="0.2">1.0</text>
<text transform="translate(389.35 413.9) scale(1 1.2)" font-family='"Liberation Sans", "DejaVu Sans", "Noto Sans CJK SC", sans-serif' font-size="8" fill="#111" text-anchor="middle" font-weight="bold" textLength="10.6" lengthAdjust="spacingAndGlyphs" stroke="#111" stroke-width="0.2">1.5</text>
<text transform="translate(415.3 413.9) scale(1 1.2)" font-family='"Liberation Sans", "DejaVu Sans", "Noto Sans CJK SC", sans-serif' font-size="8" fill="#111" text-anchor="middle" font-weight="bold" textLength="10.6" lengthAdjust="spacingAndGlyphs" stroke="#111" stroke-width="0.2">2.0</text>
<text transform="translate(441.25 413.9) scale(1 1.2)" font-family='"Liberation Sans", "DejaVu Sans", "Noto Sans CJK SC", sans-serif' font-size="8" fill="#111" text-anchor="middle" font-weight="bold" textLength="10.6" lengthAdjust="spacingAndGlyphs" stroke="#111" stroke-width="0.2">2.5</text>
<text transform="translate(467.2 413.9) scale(1 1.2)" font-family='"Liberation Sans", "DejaVu Sans", "Noto Sans CJK SC", sans-serif' font-size="8" fill="#111" text-anchor="middle" font-weight="bold" textLength="10.6" lengthAdjust="spacingAndGlyphs" stroke="#111" stroke-width="0.2">3.0</text>
<text transform="translate(493.15 413.9) scale(1 1.2)" font-family='"Liberation Sans", "DejaVu Sans", "Noto Sans CJK SC", sans-serif' font-size="8" fill="#111" text-anchor="middle" font-weight="bold" textLength="10.6" lengthAdjust="spacingAndGlyphs" stroke="#111" stroke-width="0.2">3.5</text>
<text transform="translate(519.1 413.9) scale(1 1.2)" font-family='"Liberation Sans", "DejaVu Sans", "Noto Sans CJK SC", sans-serif' font-size="8" fill="#111" text-anchor="middle" font-weight="bold" textLength="10.6" lengthAdjust="spacingAndGlyphs" stroke="#111" stroke-width="0.2">4.0</text>
<text transform="translate(415.3 424.4) scale(1 1.2)" font-family='"Liberation Sans", "DejaVu Sans", "Noto Sans CJK SC", sans-serif' font-size="8.4" fill="#111" text-anchor="middle" font-weight="bold" textLength="27.5" lengthAdjust="spacingAndGlyphs" stroke="#111" stroke-width="0.2">x (mm)</text>
<text transform="translate(291.2 318.84) rotate(-90)" x="-27.4" font-family='"Liberation Sans", "DejaVu Sans", "Noto Sans CJK SC", sans-serif' font-weight="bold" font-size="8.7" fill="#111" stroke="#111" stroke-width="0.2" textLength="54.8" lengthAdjust="spacingAndGlyphs">Area Fraction</text>
<polygon points="337.9,283.1 359.1,283.1 379.8,253.3 358.6,253.3" fill="url(#gTop)"/>
<polygon points="359.1,283.1 379.8,253.3 379.8,266.1 359.1,295.9" fill="url(#gSide)"/>
<rect x="337.9" y="283.1" width="21.2" height="12.8" fill="url(#gFront)"/>
<line x1="346.7" y1="283.1" x2="367.4" y2="253.3" stroke="#111" stroke-width="1.35"/>
<line x1="345.8" y1="283.1" x2="366.5" y2="253.3" stroke="#c99" stroke-width="0.5" opacity="0.8"/>
<line x1="346.7" y1="283.1" x2="346.7" y2="301.1" stroke="#c88" stroke-width="0.6"/>
<polygon points="347.2,295.9 349.7,295.9 347.2,301.6" fill="#111"/>
<line x1="358.6" y1="253.3" x2="358.6" y2="237.1" stroke="#1aa04a" stroke-width="1.2"/>
<polygon points="357,237.6 360.2,237.6 358.6,233.6" fill="#1aa04a"/>
<line x1="379.8" y1="265.5" x2="387.8" y2="265.5" stroke="#e02020" stroke-width="1.2"/>
<polygon points="387.3,263.9 387.3,267.1 390.8,265.5" fill="#e02020"/>
<line x1="338.7" y1="294.4" x2="333.4" y2="301.4" stroke="#2030c0" stroke-width="1.1"/>
<text x="358.6" y="231.6" text-anchor="middle" font-family='"Liberation Sans", "DejaVu Sans", "Noto Sans CJK SC", sans-serif' font-size="9" fill="#333">y</text>
<text x="393.4" y="268.1" text-anchor="middle" font-family='"Liberation Sans", "DejaVu Sans", "Noto Sans CJK SC", sans-serif' font-size="9" fill="#333">x</text>
<text x="331.6" y="305.5" text-anchor="middle" font-family='"Liberation Sans", "DejaVu Sans", "Noto Sans CJK SC", sans-serif' font-size="9" fill="#333">z</text>
<text x="368.6" y="249.1" text-anchor="middle" font-family='"Liberation Sans", "DejaVu Sans", "Noto Sans CJK SC", sans-serif' font-size="9.4" fill="#222" stroke="#222" stroke-width="0.25">A</text>
<text x="344.3" y="280.3" text-anchor="middle" font-family='"Liberation Sans", "DejaVu Sans", "Noto Sans CJK SC", sans-serif' font-size="9.4" fill="#222" stroke="#222" stroke-width="0.25">A</text>
<clipPath id="mc14"><rect x="411.8" y="251.7" width="80.4" height="45.4"/></clipPath>
<rect x="411.8" y="251.7" width="80.4" height="45.4" fill="#676767"/>
<g clip-path="url(#mc14)">
<rect x="411.8" y="251.7" width="80.4" height="45.4" filter="url(#noise)" opacity="0.38"/>
<g fill="#3a3a3a" opacity="0.45" filter="url(#soft)"><ellipse cx="423.37" cy="253.34" rx="5.76" ry="1.72"/><ellipse cx="423.52" cy="260.32" rx="6.44" ry="1.66"/><ellipse cx="422.71" cy="266.12" rx="6.23" ry="1.32"/><ellipse cx="420.01" cy="273.27" rx="4.41" ry="1.58"/><ellipse cx="421.55" cy="279.06" rx="4.23" ry="1.51"/><ellipse cx="421.17" cy="286.35" rx="5.84" ry="1.54"/><ellipse cx="424.56" cy="291.98" rx="5.96" ry="1.45"/><ellipse cx="443.28" cy="253.78" rx="5.82" ry="1.69"/><ellipse cx="443.93" cy="260.41" rx="5.77" ry="1.45"/><ellipse cx="442.83" cy="265.39" rx="5.83" ry="1.78"/><ellipse cx="441.51" cy="272.98" rx="4.33" ry="1.32"/><ellipse cx="445.69" cy="278.53" rx="5.37" ry="1.51"/><ellipse cx="443.99" cy="286.31" rx="6.06" ry="1.7"/><ellipse cx="439.85" cy="292.46" rx="4.83" ry="1.76"/><ellipse cx="465.9" cy="253.63" rx="5.58" ry="1.77"/><ellipse cx="464" cy="260.39" rx="5.87" ry="1.42"/><ellipse cx="463.63" cy="266.67" rx="4.65" ry="1.49"/><ellipse cx="463" cy="273.55" rx="5.39" ry="1.24"/><ellipse cx="463.08" cy="279.11" rx="4.03" ry="1.78"/><ellipse cx="462.82" cy="285.73" rx="5.26" ry="1.26"/><ellipse cx="458.64" cy="291.79" rx="4.86" ry="1.63"/><ellipse cx="482.62" cy="254.26" rx="6.23" ry="1.41"/><ellipse cx="482.24" cy="259.33" rx="5.27" ry="1.75"/><ellipse cx="483.54" cy="266.22" rx="5.6" ry="1.39"/><ellipse cx="481.62" cy="273.87" rx="4.07" ry="1.55"/><ellipse cx="483.84" cy="278.82" rx="4.37" ry="1.46"/><ellipse cx="480.35" cy="286.18" rx="4.72" ry="1.33"/><ellipse cx="482.93" cy="292.69" rx="4.04" ry="1.3"/></g>
<path d="M425.29 252.78 h2.2 v1.46 h-2.2Z M424.97 252.22 h2.47 v1.59 h-2.47Z M421.28 252.58 h1.84 v1.52 h-1.84Z M427.7 252.32 h2.19 v1.71 h-2.19Z M422.71 252.92 h2.5 v1.02 h-2.5Z M418.52 252.26 h1.74 v1.02 h-1.74Z M420.64 259.17 h1.75 v1.66 h-1.75Z M425.62 259.46 h1.78 v1.13 h-1.78Z M426.66 259.67 h1.92 v1.52 h-1.92Z M424.42 259.45 h2.99 v1.68 h-2.99Z M421.69 259.53 h1.84 v1.06 h-1.84Z M426.27 259.51 h1.82 v1.76 h-1.82Z M420.05 258.73 h2.37 v1.8 h-2.37Z M416.92 266.12 h2.89 v1 h-2.89Z M417.05 264.99 h2.55 v1.45 h-2.55Z M421.04 265.73 h2.19 v1.05 h-2.19Z M418.23 265.28 h2.24 v1.31 h-2.24Z M424.15 264.89 h2.65 v1.37 h-2.65Z M420.35 265.08 h2.03 v1.63 h-2.03Z M415.2 273.05 h1.62 v1.12 h-1.62Z M416.38 272.71 h2.98 v1.51 h-2.98Z M415.59 272.49 h2.1 v1.15 h-2.1Z M418.42 272.03 h1.65 v1.76 h-1.65Z M418.71 272.74 h2.53 v1.76 h-2.53Z M414.37 272.92 h2.76 v1.36 h-2.76Z M415.27 272.68 h2 v1.24 h-2Z M421.45 272.44 h1.87 v1.73 h-1.87Z M423.74 278.14 h2.65 v1.46 h-2.65Z M421.84 278.52 h1.57 v1.12 h-1.57Z M420.08 277.85 h1.95 v1.69 h-1.95Z M420.91 278.58 h2.41 v1.7 h-2.41Z M418.05 278.2 h1.82 v1.41 h-1.82Z M416.93 278.68 h2.99 v1.74 h-2.99Z M416.07 277.59 h2.72 v1.67 h-2.72Z M418.65 278.52 h2.64 v1.32 h-2.64Z M426.13 285.4 h1.51 v1.5 h-1.51Z M416.23 285.21 h2.64 v1.38 h-2.64Z M423.2 285.19 h2.59 v1.22 h-2.59Z M419.47 285.87 h2.44 v1.26 h-2.44Z M415.96 285.09 h1.97 v1.65 h-1.97Z M414.61 285.98 h1.9 v1.66 h-1.9Z M426.55 291.97 h2.82 v1.57 h-2.82Z M418.55 291.21 h2.46 v1.65 h-2.46Z M425.82 291.4 h1.5 v1.74 h-1.5Z M421.65 291.28 h2.68 v1.45 h-2.68Z M422.41 291.83 h2.87 v1.47 h-2.87Z M417.63 291.63 h2.51 v1.37 h-2.51Z M424.33 291.55 h3 v1.39 h-3Z M417.8 291.36 h2.77 v1.59 h-2.77Z M437.07 252.62 h2.46 v1.6 h-2.46Z M438.54 252.85 h2.17 v1.62 h-2.17Z M439.01 254.02 h2.05 v1.33 h-2.05Z M446.23 253.34 h2.7 v1.5 h-2.7Z M445.69 253.57 h1.54 v1.41 h-1.54Z M437.49 252.97 h2.77 v1.45 h-2.77Z M442.87 253.22 h2.17 v1.2 h-2.17Z M444.77 259.42 h2.87 v1.63 h-2.87Z M440.52 259.88 h1.87 v1.17 h-1.87Z M448.63 260.61 h1.62 v1.12 h-1.62Z M447.87 259.86 h2.42 v1.05 h-2.42Z M445.23 259.63 h2.52 v1.61 h-2.52Z M444.23 259.73 h2.89 v1.58 h-2.89Z M442.09 260.13 h2.59 v1.48 h-2.59Z M440.86 260.15 h2.91 v1.53 h-2.91Z M442.21 264.88 h1.85 v1.28 h-1.85Z M437.81 263.99 h2.29 v1.32 h-2.29Z M444.83 264.6 h2.69 v1.32 h-2.69Z M447.63 264.08 h1.99 v1.7 h-1.99Z M444.04 265.04 h1.95 v1.73 h-1.95Z M440.81 264.47 h1.54 v1.37 h-1.54Z M437.4 272.17 h2.11 v1.46 h-2.11Z M441.48 273.45 h2 v1.21 h-2Z M443.31 272.6 h2.19 v1.46 h-2.19Z M438.39 271.94 h2.85 v1.74 h-2.85Z M441.04 272.7 h2.67 v1.19 h-2.67Z M445.02 277.52 h2.82 v1.77 h-2.82Z M439.27 278.01 h2.19 v1.66 h-2.19Z M440.84 277.81 h2.22 v1.61 h-2.22Z M444.79 278.17 h2.07 v1.59 h-2.07Z M443.53 277.76 h2.45 v1.24 h-2.45Z M440.92 285.5 h2.64 v1.49 h-2.64Z M447.18 285.55 h2.66 v1.61 h-2.66Z M439.51 285.69 h1.87 v1.34 h-1.87Z M437.03 285.51 h2.44 v1.31 h-2.44Z M443.02 286.09 h2.23 v1.1 h-2.23Z M448.31 285.13 h1.85 v1.35 h-1.85Z M443.51 285.45 h2.37 v1.63 h-2.37Z M445.51 285.83 h1.92 v1.4 h-1.92Z M439.63 292 h1.79 v1.49 h-1.79Z M434.72 291.55 h2.01 v1.55 h-2.01Z M434.48 291.3 h2.75 v1.14 h-2.75Z M440.94 292.33 h2.62 v1.15 h-2.62Z M442.78 291.54 h1.74 v1.72 h-1.74Z M439.74 291.94 h2.94 v1.1 h-2.94Z M460.43 252.42 h2.79 v1.19 h-2.79Z M461.02 252.82 h2.24 v1.65 h-2.24Z M461.74 252.91 h1.94 v1.16 h-1.94Z M459.64 253.11 h2.22 v1.31 h-2.22Z M461.21 253.54 h2.75 v1.47 h-2.75Z M459.67 259.4 h2.86 v1.7 h-2.86Z M461.13 259.65 h1.63 v1.26 h-1.63Z M466.23 259.96 h1.55 v1.52 h-1.55Z M466.86 260.04 h3 v1.12 h-3Z M460.43 259.27 h2.03 v1.64 h-2.03Z M464.05 265.64 h2.57 v1.04 h-2.57Z M463.83 265.48 h2.61 v1.58 h-2.61Z M458.54 266.24 h2.94 v1.09 h-2.94Z M460.31 265.44 h2.13 v1.76 h-2.13Z M464.84 265.97 h2.08 v1.74 h-2.08Z M465.26 266.05 h2.93 v1.71 h-2.93Z M465.08 272.86 h1.51 v1.32 h-1.51Z M466.25 272.2 h2.04 v1.72 h-2.04Z M461.87 273.15 h2.28 v1.05 h-2.28Z M460.58 272.46 h2.06 v1.59 h-2.06Z M458.8 273.03 h2.36 v1.23 h-2.36Z M463.63 272.73 h2.41 v1.04 h-2.41Z M459.31 278.61 h2.37 v1.75 h-2.37Z M463.86 278.71 h1.51 v1.08 h-1.51Z M460.09 278.09 h2.92 v1.43 h-2.92Z M459.23 278.57 h2.55 v1.42 h-2.55Z M464.61 278.21 h2.09 v1.46 h-2.09Z M459.66 278.07 h1.98 v1.75 h-1.98Z M461.33 277.7 h2.54 v1.69 h-2.54Z M465.2 284.86 h2.95 v1.59 h-2.95Z M459.56 284.72 h1.71 v1.21 h-1.71Z M466.35 285.18 h2.62 v1.09 h-2.62Z M464.82 285.12 h1.97 v1.59 h-1.97Z M466.41 285.35 h1.69 v1.76 h-1.69Z M458.39 285.03 h1.78 v1.52 h-1.78Z M461.08 290.62 h2.74 v1.19 h-2.74Z M458.04 290.34 h1.91 v1.72 h-1.91Z M458.96 291.53 h2.28 v1.54 h-2.28Z M457.42 291.37 h2.53 v1.38 h-2.53Z M459.83 290.92 h2.8 v1.51 h-2.8Z M485.78 254.08 h2.88 v1.41 h-2.88Z M484.22 253.19 h2.42 v1.11 h-2.42Z M478.85 254.01 h2.02 v1.69 h-2.02Z M480.61 253.3 h2.07 v1.03 h-2.07Z M486.18 254.21 h1.9 v1.28 h-1.9Z M483.32 253.33 h2.17 v1.35 h-2.17Z M487.47 254.02 h2.56 v1.07 h-2.56Z M485.44 253.44 h1.61 v1.51 h-1.61Z M480.27 258.8 h2.95 v1.6 h-2.95Z M485.62 258.27 h2.85 v1.26 h-2.85Z M484.07 258.88 h1.94 v1.04 h-1.94Z M485.16 258.71 h1.58 v1.31 h-1.58Z M477.07 258.3 h2.55 v1.72 h-2.55Z M487.13 265.36 h1.89 v1.26 h-1.89Z M485.98 265.34 h2.55 v1.53 h-2.55Z M482.03 265.48 h2.09 v1.68 h-2.09Z M477.96 265.17 h2.56 v1.23 h-2.56Z M477.92 265.24 h2.89 v1.02 h-2.89Z M482.45 265.62 h2.86 v1.71 h-2.86Z M485.62 266.08 h1.89 v1.29 h-1.89Z M487.61 264.9 h2.02 v1.79 h-2.02Z M478.36 273.2 h1.59 v1.52 h-1.59Z M481.57 273.37 h1.5 v1.05 h-1.5Z M483.46 272.98 h2.43 v1.32 h-2.43Z M483.7 273.76 h1.65 v1.11 h-1.65Z M481.94 274.12 h1.97 v1.22 h-1.97Z M479.16 277.59 h2.57 v1.63 h-2.57Z M480.47 278.28 h2.66 v1.23 h-2.66Z M478.64 278.2 h2.19 v1.7 h-2.19Z M479.19 277.99 h2.91 v1.52 h-2.91Z M481.1 277.46 h1.61 v1.29 h-1.61Z M484.63 277.34 h2.02 v1.6 h-2.02Z M486.92 279.15 h2.3 v1.22 h-2.3Z M475.82 284.94 h1.6 v1.8 h-1.6Z M477.97 285.85 h1.67 v1.61 h-1.67Z M481.53 285.73 h2.76 v1.79 h-2.76Z M478.41 285.66 h1.51 v1.76 h-1.51Z M482.7 285.6 h2.1 v1.13 h-2.1Z M481.83 284.98 h1.97 v1.64 h-1.97Z M477.1 285.15 h2.34 v1.77 h-2.34Z M475.2 286.12 h2.72 v1.07 h-2.72Z M482.5 291.59 h2.26 v1.65 h-2.26Z M481.63 292.01 h1.9 v1.4 h-1.9Z M479.53 291.28 h2.76 v1.21 h-2.76Z M477.69 292.95 h2.59 v1.15 h-2.59Z M483.48 292.14 h2.79 v1.69 h-2.79Z M478.13 292.05 h2.41 v1.73 h-2.41Z M478.38 291.89 h2.67 v1.26 h-2.67Z" fill="#222" opacity="0.8"/>
</g>
<line x1="411.8" y1="252" x2="492.2" y2="252" stroke="#9a8a70" stroke-width="0.7"/>
<line x1="411.1" y1="297.1" x2="411.1" y2="239.8" stroke="#22c060" stroke-width="1.2"/>
<polygon points="409.6,240.3 412.6,240.3 411.1,236.8" fill="#22c060"/>
<line x1="411.1" y1="297.3" x2="498.6" y2="297.3" stroke="#f03040" stroke-width="1.2"/>
<polygon points="498.1,295.8 498.1,298.8 501.6,297.3" fill="#f03040"/>
<text x="411.8" y="232.5" font-family='"Liberation Sans", "DejaVu Sans", "Noto Sans CJK SC", sans-serif' font-size="9.5" fill="#333" text-anchor="middle">y</text>
<text x="506.4" y="301.5" font-family='"Liberation Sans", "DejaVu Sans", "Noto Sans CJK SC", sans-serif' font-size="9.5" fill="#333" text-anchor="middle">x</text>
<rect x="340.4" y="308.2" width="51.3" height="34.3" fill="#fff" stroke="#6a6a6a" stroke-width="1"/>
<line x1="342.1" y1="313.9" x2="361.2" y2="313.9" stroke="#505050" stroke-width="1.4"/>
<text transform="translate(363.7 317) scale(1 1.08)" font-family='"Liberation Sans", "DejaVu Sans", "Noto Sans CJK SC", sans-serif' font-size="8.4" fill="#333" textLength="26.1" lengthAdjust="spacingAndGlyphs">0.2mm</text>
<line x1="342.1" y1="324.7" x2="361.2" y2="324.7" stroke="#f4485a" stroke-width="1.4"/>
<text transform="translate(363.7 327.8) scale(1 1.08)" font-family='"Liberation Sans", "DejaVu Sans", "Noto Sans CJK SC", sans-serif' font-size="8.4" fill="#333" textLength="26.1" lengthAdjust="spacingAndGlyphs">0.3mm</text>
<line x1="342.1" y1="335.5" x2="361.2" y2="335.5" stroke="#1b70e4" stroke-width="1.4"/>
<text transform="translate(363.7 338.6) scale(1 1.08)" font-family='"Liberation Sans", "DejaVu Sans", "Noto Sans CJK SC", sans-serif' font-size="8.4" fill="#333" textLength="26.1" lengthAdjust="spacingAndGlyphs">0.4mm</text>
<rect x="427.2" y="306.1" width="60.1" height="36.4" fill="#fff" stroke="#6a6a6a" stroke-width="1"/>
<text transform="translate(428.2 314.5) scale(1 1.1)" font-family='"Liberation Sans", "DejaVu Sans", "Noto Sans CJK SC", sans-serif' fill="#333" textLength="57.2" lengthAdjust="spacingAndGlyphs"><tspan font-size="8.4" y="0">SVF</tspan><tspan font-size="5.7" y="2">(0.2mm)</tspan><tspan font-size="8.4" y="0">:7.016</tspan></text>
<text transform="translate(428.2 325.9) scale(1 1.1)" font-family='"Liberation Sans", "DejaVu Sans", "Noto Sans CJK SC", sans-serif' fill="#333" textLength="57.2" lengthAdjust="spacingAndGlyphs"><tspan font-size="8.4" y="0">SVF</tspan><tspan font-size="5.7" y="2">(0.3mm)</tspan><tspan font-size="8.4" y="0">:7.077</tspan></text>
<text transform="translate(428.2 337.1) scale(1 1.1)" font-family='"Liberation Sans", "DejaVu Sans", "Noto Sans CJK SC", sans-serif' fill="#333" textLength="57.2" lengthAdjust="spacingAndGlyphs"><tspan font-size="8.4" y="0">SVF</tspan><tspan font-size="5.7" y="2">(0.4mm)</tspan><tspan font-size="8.4" y="0">:9.796</tspan></text>
<path d="M311.9 399.58 L312.93 398.89 L313.96 398.87 L315 399.4 L316.03 399.38 L317.06 398.68 L318.09 397.77 L319.12 395.94 L320.16 393.28 L321.19 389.7 L322.22 385.09 L323.25 381.31 L324.28 378.91 L325.32 376.93 L326.35 374.89 L327.38 372.41 L328.41 370.4 L329.44 369.1 L330.48 367.65 L331.51 366.38 L332.54 366.1 L333.57 365.39 L334.6 363.97 L335.64 363.51 L336.67 363.39 L337.7 362.5 L338.73 361.84 L339.76 362.01 L340.8 362.05 L341.83 361.55 L342.86 361.6 L343.89 362.69 L344.92 363.67 L345.96 364.1 L346.99 365.02 L348.02 366.47 L349.05 367.53 L350.08 368.8 L351.12 370.89 L352.15 372.66 L353.18 373.86 L354.21 375.21 L355.24 377.3 L356.28 380.06 L357.31 382.33 L358.34 384.34 L359.37 386.09 L360.4 386.84 L361.44 387.98 L362.47 389.33 L363.5 389.76 L364.53 390.36 L365.56 391.36 L366.6 391.95 L367.63 392.66 L368.66 393.32 L369.69 393.05 L370.72 393.22 L371.76 393.8 L372.79 392.95 L373.82 391.5 L374.85 390.16 L375.88 388.95 L376.92 387.46 L377.95 386.05 L378.98 384.69 L380.01 382.67 L381.04 380.63 L382.08 378.92 L383.11 377.2 L384.14 375.43 L385.17 374.27 L386.2 373.38 L387.24 371.93 L388.27 370.42 L389.3 370.29 L390.33 371.1 L391.36 371.08 L392.4 371.35 L393.43 372.66 L394.46 373.52 L395.49 374.12 L396.52 375.18 L397.56 375.45 L398.59 375.93 L399.62 377.38 L400.65 378.2 L401.68 378.49 L402.72 378.14 L403.75 377.5 L404.78 378.35 L405.81 380.29 L406.84 380.81 L407.88 380.13 L408.91 380.13 L409.94 381.26 L410.97 382.43 L412 382.98 L413.04 384.03 L414.07 385.83 L415.1 387.39 L416.13 388.15 L417.16 388.87 L418.2 389.95 L419.23 391.07 L420.26 391.91 L421.29 391.55 L422.32 390.6 L423.36 390.45 L424.39 389.67 L425.42 387.54 L426.45 385.5 L427.48 384.08 L428.52 383.61 L429.55 383.55 L430.58 382.4 L431.61 379.87 L432.64 378.31 L433.68 378.54 L434.71 377.95 L435.74 376.71 L436.77 376.12 L437.8 375.48 L438.84 374.49 L439.87 373.27 L440.9 372.26 L441.93 371.75 L442.96 371.45 L444 371.46 L445.03 372.08 L446.06 373.64 L447.09 374.62 L448.12 375.34 L449.16 377.07 L450.19 378.81 L451.22 380.24 L452.25 381.74 L453.28 383.81 L454.32 386.37 L455.35 389.23 L456.38 391.76 L457.41 393.32 L458.44 394.15 L459.48 394.83 L460.51 395.09 L461.54 395.06 L462.57 395.23 L463.6 396 L464.64 396.37 L465.67 393.2 L466.7 389.01 L467.73 387.59 L468.76 389.37 L469.8 392.05 L470.83 392.41 L471.86 390.93 L472.89 389.57 L473.92 387.84 L474.96 386.47 L475.99 385.77 L477.02 384.19 L478.05 382.37 L479.08 381.22 L480.12 380.49 L481.15 379.98 L482.18 379.85 L483.21 379.74 L484.24 379 L485.28 378.02 L486.31 376.96 L487.34 375.64 L488.37 374.04 L489.4 372.76 L490.44 372.22 L491.47 372.11 L492.5 372.7 L493.53 373.9 L494.56 375.32 L495.6 376.76 L496.63 378.1 L497.66 379.36 L498.69 380.95 L499.72 382.58 L500.76 383.77 L501.79 385.44 L502.82 387.1 L503.85 388.3 L504.88 389.53 L505.92 390.86 L506.95 392.65 L507.98 394.45 L509.01 395.22 L510.04 395.53 L511.08 396.84 L512.11 398.3 L513.14 399.19 L514.17 399.56 L515.2 399.73 L516.24 400.65" fill="none" stroke="#3a3a3a" stroke-width="1.25" stroke-linejoin="round"/>
<path d="M311.9 399.68 L312.93 399.22 L313.96 399.07 L315 398.85 L316.03 399 L317.06 399.87 L318.09 400.27 L319.12 399.04 L320.16 395.98 L321.19 392.26 L322.22 388.92 L323.25 386.23 L324.28 384.08 L325.32 381.36 L326.35 378.11 L327.38 374.68 L328.41 371.94 L329.44 370.03 L330.48 368.22 L331.51 366.29 L332.54 364.86 L333.57 364.14 L334.6 363.29 L335.64 362.26 L336.67 361.4 L337.7 360.33 L338.73 358.76 L339.76 357.34 L340.8 357.97 L341.83 360.58 L342.86 362.75 L343.89 364.61 L344.92 366.74 L345.96 368.36 L346.99 369.53 L348.02 370.76 L349.05 372.45 L350.08 374.42 L351.12 376.07 L352.15 377.9 L353.18 381.01 L354.21 384.02 L355.24 386.13 L356.28 388.11 L357.31 389.9 L358.34 391.79 L359.37 394.34 L360.4 396.4 L361.44 396.92 L362.47 397.09 L363.5 397.78 L364.53 398.05 L365.56 398.39 L366.6 398.8 L367.63 398.17 L368.66 397.29 L369.69 396.76 L370.72 395.92 L371.76 394.49 L372.79 393.11 L373.82 392.41 L374.85 391.31 L375.88 389.83 L376.92 388.34 L377.95 385.69 L378.98 381.64 L380.01 377.36 L381.04 374.62 L382.08 373.89 L383.11 373.01 L384.14 371.24 L385.17 369.83 L386.2 368.78 L387.24 367.69 L388.27 367.15 L389.3 367.36 L390.33 368.16 L391.36 369.52 L392.4 370.36 L393.43 370.54 L394.46 371.33 L395.49 372.89 L396.52 374.77 L397.56 376.7 L398.59 379.3 L399.62 382.28 L400.65 384.07 L401.68 385.42 L402.72 387.9 L403.75 390.5 L404.78 392.12 L405.81 393.81 L406.84 395.2 L407.88 395.94 L408.91 397.16 L409.94 398.39 L410.97 398.6 L412 399 L413.04 399.69 L414.07 400.26 L415.1 400.81 L416.13 400.41 L417.16 399.89 L418.2 399.97 L419.23 399.5 L420.26 398.41 L421.29 396.87 L422.32 395.18 L423.36 393.92 L424.39 392.41 L425.42 389.14 L426.45 384.94 L427.48 381.01 L428.52 377.08 L429.55 373.11 L430.58 369.43 L431.61 367.28 L432.64 366.23 L433.68 365.97 L434.71 365.44 L435.74 363.92 L436.77 363.01 L437.8 362.91 L438.84 361.78 L439.87 359.85 L440.9 358.17 L441.93 357.9 L442.96 360.7 L444 364.57 L445.03 368.57 L446.06 372.84 L447.09 375.55 L448.12 378.12 L449.16 382.19 L450.19 386.54 L451.22 389.57 L452.25 391.19 L453.28 393.13 L454.32 395.7 L455.35 397.92 L456.38 399.24 L457.41 400.21 L458.44 400.56 L459.48 400.74 L460.51 401.32 L461.54 401 L462.57 399.86 L463.6 398.82 L464.64 397.15 L465.67 394.23 L466.7 391.22 L467.73 389.08 L468.76 386.7 L469.8 383.78 L470.83 381.31 L471.86 379.03 L472.89 375.83 L473.92 372.99 L474.96 371.46 L475.99 369.64 L477.02 367.72 L478.05 366.19 L479.08 364.33 L480.12 362.23 L481.15 360.65 L482.18 360.23 L483.21 360.52 L484.24 360.27 L485.28 359.65 L486.31 359.45 L487.34 359.62 L488.37 360.37 L489.4 362.05 L490.44 364.93 L491.47 368.35 L492.5 371.3 L493.53 374.39 L494.56 377.58 L495.6 379.2 L496.63 380.49 L497.66 383.89 L498.69 387.17 L499.72 388.29 L500.76 389.28 L501.79 391.51 L502.82 393.87 L503.85 395.88 L504.88 397.13 L505.92 397.58 L506.95 398.3 L507.98 399.14 L509.01 399.28 L510.04 399.6 L511.08 400.31" fill="none" stroke="#f4485a" stroke-width="1.25" stroke-linejoin="round"/>
<path d="M311.9 399.79 L312.93 400.75 L313.96 400.2 L315 399.34 L316.03 399.18 L317.06 398.97 L318.09 398.93 L319.12 398.76 L320.16 397.25 L321.19 394.16 L322.22 391.02 L323.25 388.22 L324.28 385.16 L325.32 381.34 L326.35 377.68 L327.38 374.41 L328.41 371.34 L329.44 367.97 L330.48 364.54 L331.51 361.87 L332.54 359.58 L333.57 357.29 L334.6 355.22 L335.64 354.11 L336.67 353.74 L337.7 353.57 L338.73 353.51 L339.76 353.19 L340.8 352.66 L341.83 350.62 L342.86 348.35 L343.89 347.86 L344.92 349.4 L345.96 352.12 L346.99 354.36 L348.02 356.1 L349.05 358.82 L350.08 362.57 L351.12 366.14 L352.15 369.6 L353.18 373.7 L354.21 377.46 L355.24 380.29 L356.28 382.51 L357.31 384.87 L358.34 387.33 L359.37 389.8 L360.4 391.95 L361.44 392.95 L362.47 393.78 L363.5 395.22 L364.53 396.49 L365.56 397.38 L366.6 397.93 L367.63 398.44 L368.66 399.02 L369.69 399.13 L370.72 399.13 L371.76 399.79 L372.79 400.32 L373.82 400.15 L374.85 399.12 L375.88 397.26 L376.92 394.07 L377.95 389.52 L378.98 385.1 L380.01 382.2 L381.04 379.07 L382.08 373.59 L383.11 367.44 L384.14 361.85 L385.17 356.45 L386.2 352.82 L387.24 351.27 L388.27 349.83 L389.3 348.22 L390.33 347.89 L391.36 348.22 L392.4 348.43 L393.43 348.19 L394.46 348.38 L395.49 349.48 L396.52 350.21 L397.56 350.61 L398.59 352.69 L399.62 356.15 L400.65 359.29 L401.68 361.93 L402.72 364.63 L403.75 367.02 L404.78 369.52 L405.81 372.88 L406.84 376.27 L407.88 379.36 L408.91 381.6 L409.94 383.91 L410.97 386.9 L412 389.06 L413.04 390.52 L414.07 391.74 L415.1 392.97 L416.13 395.27 L417.16 397.69 L418.2 398.9 L419.23 399.9 L420.26 399.82 L421.29 398.71 L422.32 397.99 L423.36 396.55 L424.39 394.08 L425.42 391.17 L426.45 388.47 L427.48 385.69 L428.52 381.2 L429.55 376.04 L430.58 371.37 L431.61 366.9 L432.64 362.42 L433.68 358.79 L434.71 356.31 L435.74 354.24 L436.77 351.09 L437.8 348.41 L438.84 347.77 L439.87 347.91 L440.9 347.98 L441.93 348.47 L442.96 348.83 L444 348.82 L445.03 349.31 L446.06 349.9 L447.09 349.94 L448.12 351.77 L449.16 354.93 L450.19 357.81 L451.22 360.18 L452.25 362.86 L453.28 366.47 L454.32 370.78 L455.35 374.96 L456.38 377.7 L457.41 380.14 L458.44 383.94 L459.48 387.56 L460.51 390.54 L461.54 392.74 L462.57 394.31 L463.6 395.28 L464.64 394.98 L465.67 393.45 L466.7 391.65 L467.73 389.47 L468.76 386.54 L469.8 383.9 L470.83 381.61 L471.86 377.01 L472.89 370.97 L473.92 366.07 L474.96 361.15 L475.99 356.44 L477.02 354.75 L478.05 354.19 L479.08 352.35 L480.12 349.96 L481.15 347.71 L482.18 347.28 L483.21 348.39 L484.24 349.48 L485.28 351.17 L486.31 352.62 L487.34 353.3 L488.37 354 L489.4 354.62 L490.44 355.34 L491.47 355.99 L492.5 355.95 L493.53 355.99 L494.56 356.78 L495.6 358.52 L496.63 361.64 L497.66 364.93 L498.69 367.84 L499.72 371.31 L500.76 375.05 L501.79 377.47 L502.82 378.58 L503.85 380.36 L504.88 382.94 L505.92 385.38 L506.95 386.94 L507.98 388.35 L509.01 390.97 L510.04 393.65 L511.08 394.79 L512.11 395.67 L513.14 397.87 L514.17 400.13 L515.2 401.01 L516.24 400.7 L517.27 400.2" fill="none" stroke="#1b70e4" stroke-width="1.25" stroke-linejoin="round"/>
<text x="533.8" y="233.6" font-family='"Liberation Sans", "DejaVu Sans", "Noto Sans CJK SC", sans-serif' font-size="11.6" fill="#111" stroke="#111" stroke-width="0.12">d</text>
</svg></body></html>
